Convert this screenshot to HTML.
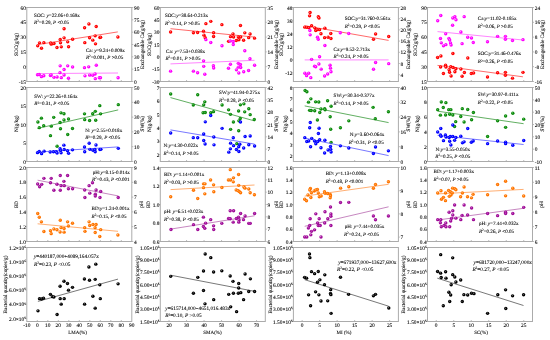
<!DOCTYPE html>
<html><head><meta charset="utf-8"><style>html,body{margin:0;padding:0;background:#fff;width:550px;height:340px;overflow:hidden}svg{display:block;will-change:transform;text-rendering:geometricPrecision}</style></head>
<body>
<svg width="550" height="340" viewBox="0 0 550 340">
<rect width="550" height="340" fill="#fff"/>
<defs><radialGradient id="g0" cx="0.5" cy="0.5" r="0.5" fx="0.35" fy="0.35"><stop offset="0" stop-color="#ff9090"/><stop offset="0.55" stop-color="#f00"/><stop offset="1" stop-color="#f00"/></radialGradient><radialGradient id="g1" cx="0.5" cy="0.5" r="0.5" fx="0.35" fy="0.35"><stop offset="0" stop-color="#ffa0ff"/><stop offset="0.55" stop-color="#f0f"/><stop offset="1" stop-color="#f0f"/></radialGradient><radialGradient id="g2" cx="0.5" cy="0.5" r="0.5" fx="0.35" fy="0.35"><stop offset="0" stop-color="#70c870"/><stop offset="0.55" stop-color="#0c8a0c"/><stop offset="1" stop-color="#0c8a0c"/></radialGradient><radialGradient id="g3" cx="0.5" cy="0.5" r="0.5" fx="0.35" fy="0.35"><stop offset="0" stop-color="#8080ff"/><stop offset="0.55" stop-color="#00f"/><stop offset="1" stop-color="#00f"/></radialGradient><radialGradient id="g4" cx="0.5" cy="0.5" r="0.5" fx="0.35" fy="0.35"><stop offset="0" stop-color="#d080d0"/><stop offset="0.55" stop-color="#a00c98"/><stop offset="1" stop-color="#a00c98"/></radialGradient><radialGradient id="g5" cx="0.5" cy="0.5" r="0.5" fx="0.35" fy="0.35"><stop offset="0" stop-color="#ffc080"/><stop offset="0.55" stop-color="#ff7400"/><stop offset="1" stop-color="#ff7400"/></radialGradient><radialGradient id="g6" cx="0.5" cy="0.5" r="0.5" fx="0.35" fy="0.35"><stop offset="0" stop-color="#808080"/><stop offset="0.55" stop-color="#000"/><stop offset="1" stop-color="#000"/></radialGradient></defs>
<g font-family="&quot;Liberation Serif&quot;, serif" fill="#000" stroke="#000" stroke-width="0.08">
<rect x="26.8" y="7.5" width="105" height="74" fill="none" stroke="#ababab" stroke-width="1"/>
<line x1="37.30" y1="81.5" x2="37.30" y2="80.0" stroke="#ababab" stroke-width="0.8"/>
<line x1="47.80" y1="81.5" x2="47.80" y2="80.0" stroke="#ababab" stroke-width="0.8"/>
<line x1="58.30" y1="81.5" x2="58.30" y2="80.0" stroke="#ababab" stroke-width="0.8"/>
<line x1="68.80" y1="81.5" x2="68.80" y2="80.0" stroke="#ababab" stroke-width="0.8"/>
<line x1="79.30" y1="81.5" x2="79.30" y2="80.0" stroke="#ababab" stroke-width="0.8"/>
<line x1="89.80" y1="81.5" x2="89.80" y2="80.0" stroke="#ababab" stroke-width="0.8"/>
<line x1="100.30" y1="81.5" x2="100.30" y2="80.0" stroke="#ababab" stroke-width="0.8"/>
<line x1="110.80" y1="81.5" x2="110.80" y2="80.0" stroke="#ababab" stroke-width="0.8"/>
<line x1="121.30" y1="81.5" x2="121.30" y2="80.0" stroke="#ababab" stroke-width="0.8"/>
<line x1="26.8" y1="7.50" x2="25.3" y2="7.50" stroke="#ababab" stroke-width="0.8"/>
<text x="25.9" y="9.60" font-size="5.40" text-anchor="end">60</text>
<line x1="26.8" y1="22.30" x2="25.3" y2="22.30" stroke="#ababab" stroke-width="0.8"/>
<text x="25.9" y="24.40" font-size="5.40" text-anchor="end">45</text>
<line x1="26.8" y1="37.10" x2="25.3" y2="37.10" stroke="#ababab" stroke-width="0.8"/>
<text x="25.9" y="39.20" font-size="5.40" text-anchor="end">30</text>
<line x1="26.8" y1="51.90" x2="25.3" y2="51.90" stroke="#ababab" stroke-width="0.8"/>
<text x="25.9" y="54.00" font-size="5.40" text-anchor="end">15</text>
<line x1="26.8" y1="66.70" x2="25.3" y2="66.70" stroke="#ababab" stroke-width="0.8"/>
<text x="25.9" y="68.80" font-size="5.40" text-anchor="end">0</text>
<line x1="26.8" y1="81.50" x2="25.3" y2="81.50" stroke="#ababab" stroke-width="0.8"/>
<text x="25.9" y="83.60" font-size="5.40" text-anchor="end">-15</text>
<line x1="131.8" y1="7.50" x2="133.3" y2="7.50" stroke="#ababab" stroke-width="0.8"/>
<text x="134.0" y="9.60" font-size="5.40">90</text>
<line x1="131.8" y1="19.83" x2="133.3" y2="19.83" stroke="#ababab" stroke-width="0.8"/>
<text x="134.0" y="21.93" font-size="5.40">75</text>
<line x1="131.8" y1="32.17" x2="133.3" y2="32.17" stroke="#ababab" stroke-width="0.8"/>
<text x="134.0" y="34.27" font-size="5.40">60</text>
<line x1="131.8" y1="44.50" x2="133.3" y2="44.50" stroke="#ababab" stroke-width="0.8"/>
<text x="134.0" y="46.60" font-size="5.40">45</text>
<line x1="131.8" y1="56.83" x2="133.3" y2="56.83" stroke="#ababab" stroke-width="0.8"/>
<text x="134.0" y="58.93" font-size="5.40">30</text>
<line x1="131.8" y1="69.17" x2="133.3" y2="69.17" stroke="#ababab" stroke-width="0.8"/>
<text x="134.0" y="71.27" font-size="5.40">15</text>
<line x1="131.8" y1="81.50" x2="133.3" y2="81.50" stroke="#ababab" stroke-width="0.8"/>
<text x="134.0" y="83.60" font-size="5.40">0</text>
<text transform="translate(18.4,44.5) rotate(-90)" font-size="5.20" text-anchor="middle">SOC(g/kg)</text>
<text transform="translate(144.4,44.5) rotate(-90)" font-size="5.20" text-anchor="middle">Exchangeable Ca(g/kg)</text>
<line x1="37.6" y1="44.6" x2="117.8" y2="31.9" stroke="#f44" stroke-width="0.80"/>
<circle cx="37.70" cy="45.85" r="1.70" fill="url(#g0)" stroke="none"/>
<circle cx="39.50" cy="42.85" r="1.70" fill="url(#g0)" stroke="none"/>
<circle cx="41.50" cy="48.25" r="1.70" fill="url(#g0)" stroke="none"/>
<circle cx="43.90" cy="42.65" r="1.70" fill="url(#g0)" stroke="none"/>
<circle cx="50.70" cy="42.85" r="1.70" fill="url(#g0)" stroke="none"/>
<circle cx="51.30" cy="44.15" r="1.70" fill="url(#g0)" stroke="none"/>
<circle cx="54.00" cy="43.45" r="1.70" fill="url(#g0)" stroke="none"/>
<circle cx="57.00" cy="47.55" r="1.70" fill="url(#g0)" stroke="none"/>
<circle cx="60.20" cy="39.45" r="1.70" fill="url(#g0)" stroke="none"/>
<circle cx="60.50" cy="42.85" r="1.70" fill="url(#g0)" stroke="none"/>
<circle cx="61.30" cy="46.85" r="1.70" fill="url(#g0)" stroke="none"/>
<circle cx="64.10" cy="28.75" r="1.70" fill="url(#g0)" stroke="none"/>
<circle cx="64.10" cy="37.85" r="1.70" fill="url(#g0)" stroke="none"/>
<circle cx="67.70" cy="41.85" r="1.70" fill="url(#g0)" stroke="none"/>
<circle cx="68.60" cy="46.75" r="1.70" fill="url(#g0)" stroke="none"/>
<circle cx="72.60" cy="39.25" r="1.70" fill="url(#g0)" stroke="none"/>
<circle cx="84.60" cy="27.75" r="1.70" fill="url(#g0)" stroke="none"/>
<circle cx="88.90" cy="23.95" r="1.70" fill="url(#g0)" stroke="none"/>
<circle cx="96.20" cy="26.45" r="1.70" fill="url(#g0)" stroke="none"/>
<circle cx="84.80" cy="42.65" r="1.70" fill="url(#g0)" stroke="none"/>
<circle cx="89.60" cy="37.75" r="1.70" fill="url(#g0)" stroke="none"/>
<circle cx="92.80" cy="40.15" r="1.70" fill="url(#g0)" stroke="none"/>
<circle cx="95.20" cy="35.85" r="1.70" fill="url(#g0)" stroke="none"/>
<circle cx="95.50" cy="43.85" r="1.70" fill="url(#g0)" stroke="none"/>
<circle cx="99.90" cy="37.55" r="1.70" fill="url(#g0)" stroke="none"/>
<circle cx="100.60" cy="37.25" r="1.70" fill="url(#g0)" stroke="none"/>
<circle cx="117.90" cy="37.05" r="1.70" fill="url(#g0)" stroke="none"/>
<line x1="37.4" y1="73.6" x2="118.0" y2="73.0" stroke="#f6f" stroke-width="0.80"/>
<circle cx="37.50" cy="74.75" r="1.70" fill="url(#g1)" stroke="none"/>
<circle cx="39.20" cy="74.45" r="1.70" fill="url(#g1)" stroke="none"/>
<circle cx="41.40" cy="76.65" r="1.70" fill="url(#g1)" stroke="none"/>
<circle cx="43.80" cy="75.75" r="1.70" fill="url(#g1)" stroke="none"/>
<circle cx="50.40" cy="75.55" r="1.70" fill="url(#g1)" stroke="none"/>
<circle cx="51.20" cy="74.95" r="1.70" fill="url(#g1)" stroke="none"/>
<circle cx="54.00" cy="77.35" r="1.70" fill="url(#g1)" stroke="none"/>
<circle cx="57.10" cy="76.95" r="1.70" fill="url(#g1)" stroke="none"/>
<circle cx="60.20" cy="65.85" r="1.70" fill="url(#g1)" stroke="none"/>
<circle cx="60.00" cy="72.65" r="1.70" fill="url(#g1)" stroke="none"/>
<circle cx="61.30" cy="77.65" r="1.70" fill="url(#g1)" stroke="none"/>
<circle cx="64.10" cy="69.55" r="1.70" fill="url(#g1)" stroke="none"/>
<circle cx="64.10" cy="74.95" r="1.70" fill="url(#g1)" stroke="none"/>
<circle cx="67.70" cy="65.85" r="1.70" fill="url(#g1)" stroke="none"/>
<circle cx="68.50" cy="78.25" r="1.70" fill="url(#g1)" stroke="none"/>
<circle cx="72.60" cy="67.05" r="1.70" fill="url(#g1)" stroke="none"/>
<circle cx="84.50" cy="67.65" r="1.70" fill="url(#g1)" stroke="none"/>
<circle cx="88.70" cy="66.85" r="1.70" fill="url(#g1)" stroke="none"/>
<circle cx="96.30" cy="65.25" r="1.70" fill="url(#g1)" stroke="none"/>
<circle cx="85.00" cy="75.85" r="1.70" fill="url(#g1)" stroke="none"/>
<circle cx="89.70" cy="75.15" r="1.70" fill="url(#g1)" stroke="none"/>
<circle cx="92.70" cy="75.35" r="1.70" fill="url(#g1)" stroke="none"/>
<circle cx="95.10" cy="73.95" r="1.70" fill="url(#g1)" stroke="none"/>
<circle cx="95.30" cy="78.65" r="1.70" fill="url(#g1)" stroke="none"/>
<circle cx="99.30" cy="77.75" r="1.70" fill="url(#g1)" stroke="none"/>
<circle cx="100.50" cy="77.75" r="1.70" fill="url(#g1)" stroke="none"/>
<circle cx="118.10" cy="77.75" r="1.70" fill="url(#g1)" stroke="none"/>
<text x="34.1" y="16.8" font-size="5.05">SOC: <tspan font-style="italic">y</tspan>=22.06+0.169x</text>
<text x="34.1" y="23.6" font-size="5.05"><tspan font-style="italic">R</tspan><tspan dy="-1.8" font-size="3.28">2</tspan><tspan dy="1.8">=0.29, <tspan font-style="italic">P</tspan> &lt;0.05</tspan></text>
<text x="85.9" y="51.5" font-size="5.05">Ca: <tspan font-style="italic">y</tspan>=9.24+0.009x</text>
<text x="85.9" y="58.6" font-size="5.05"><tspan font-style="italic">R</tspan><tspan dy="-1.8" font-size="3.28">2</tspan><tspan dy="1.8">=0.001, <tspan font-style="italic">P</tspan> &gt;0.05</tspan></text>
<rect x="160.3" y="7.5" width="105" height="74" fill="none" stroke="#ababab" stroke-width="1"/>
<line x1="169.05" y1="81.5" x2="169.05" y2="80.0" stroke="#ababab" stroke-width="0.8"/>
<line x1="186.55" y1="81.5" x2="186.55" y2="80.0" stroke="#ababab" stroke-width="0.8"/>
<line x1="204.05" y1="81.5" x2="204.05" y2="80.0" stroke="#ababab" stroke-width="0.8"/>
<line x1="221.55" y1="81.5" x2="221.55" y2="80.0" stroke="#ababab" stroke-width="0.8"/>
<line x1="239.05" y1="81.5" x2="239.05" y2="80.0" stroke="#ababab" stroke-width="0.8"/>
<line x1="256.55" y1="81.5" x2="256.55" y2="80.0" stroke="#ababab" stroke-width="0.8"/>
<line x1="160.3" y1="7.50" x2="158.8" y2="7.50" stroke="#ababab" stroke-width="0.8"/>
<text x="159.4" y="9.60" font-size="5.40" text-anchor="end">60</text>
<line x1="160.3" y1="19.83" x2="158.8" y2="19.83" stroke="#ababab" stroke-width="0.8"/>
<text x="159.4" y="21.93" font-size="5.40" text-anchor="end">45</text>
<line x1="160.3" y1="32.17" x2="158.8" y2="32.17" stroke="#ababab" stroke-width="0.8"/>
<text x="159.4" y="34.27" font-size="5.40" text-anchor="end">30</text>
<line x1="160.3" y1="44.50" x2="158.8" y2="44.50" stroke="#ababab" stroke-width="0.8"/>
<text x="159.4" y="46.60" font-size="5.40" text-anchor="end">15</text>
<line x1="160.3" y1="56.83" x2="158.8" y2="56.83" stroke="#ababab" stroke-width="0.8"/>
<text x="159.4" y="58.93" font-size="5.40" text-anchor="end">0</text>
<line x1="160.3" y1="69.17" x2="158.8" y2="69.17" stroke="#ababab" stroke-width="0.8"/>
<text x="159.4" y="71.27" font-size="5.40" text-anchor="end">-15</text>
<line x1="160.3" y1="81.50" x2="158.8" y2="81.50" stroke="#ababab" stroke-width="0.8"/>
<text x="159.4" y="83.60" font-size="5.40" text-anchor="end">-30</text>
<line x1="265.3" y1="7.50" x2="266.8" y2="7.50" stroke="#ababab" stroke-width="0.8"/>
<text x="267.5" y="9.60" font-size="5.40">35</text>
<line x1="265.3" y1="22.30" x2="266.8" y2="22.30" stroke="#ababab" stroke-width="0.8"/>
<text x="267.5" y="24.40" font-size="5.40">28</text>
<line x1="265.3" y1="37.10" x2="266.8" y2="37.10" stroke="#ababab" stroke-width="0.8"/>
<text x="267.5" y="39.20" font-size="5.40">21</text>
<line x1="265.3" y1="51.90" x2="266.8" y2="51.90" stroke="#ababab" stroke-width="0.8"/>
<text x="267.5" y="54.00" font-size="5.40">14</text>
<line x1="265.3" y1="66.70" x2="266.8" y2="66.70" stroke="#ababab" stroke-width="0.8"/>
<text x="267.5" y="68.80" font-size="5.40">7</text>
<line x1="265.3" y1="81.50" x2="266.8" y2="81.50" stroke="#ababab" stroke-width="0.8"/>
<text x="267.5" y="83.60" font-size="5.40">0</text>
<text transform="translate(150.9,44.5) rotate(-90)" font-size="5.20" text-anchor="middle">SOC(g/kg)</text>
<text transform="translate(277.5,44.5) rotate(-90)" font-size="5.20" text-anchor="middle">Exchangeable Ca(g/kg)</text>
<line x1="170.5" y1="28.7" x2="254.5" y2="37.1" stroke="#f44" stroke-width="0.80"/>
<circle cx="170.60" cy="32.05" r="1.70" fill="url(#g0)" stroke="none"/>
<circle cx="193.40" cy="32.75" r="1.70" fill="url(#g0)" stroke="none"/>
<circle cx="197.60" cy="32.55" r="1.70" fill="url(#g0)" stroke="none"/>
<circle cx="203.50" cy="31.15" r="1.70" fill="url(#g0)" stroke="none"/>
<circle cx="204.00" cy="35.15" r="1.70" fill="url(#g0)" stroke="none"/>
<circle cx="205.20" cy="37.75" r="1.70" fill="url(#g0)" stroke="none"/>
<circle cx="205.90" cy="23.65" r="1.70" fill="url(#g0)" stroke="none"/>
<circle cx="210.80" cy="21.35" r="1.70" fill="url(#g0)" stroke="none"/>
<circle cx="213.60" cy="32.75" r="1.70" fill="url(#g0)" stroke="none"/>
<circle cx="213.60" cy="36.45" r="1.70" fill="url(#g0)" stroke="none"/>
<circle cx="221.90" cy="24.65" r="1.70" fill="url(#g0)" stroke="none"/>
<circle cx="240.50" cy="25.45" r="1.70" fill="url(#g0)" stroke="none"/>
<circle cx="233.00" cy="33.85" r="1.70" fill="url(#g0)" stroke="none"/>
<circle cx="230.50" cy="36.65" r="1.70" fill="url(#g0)" stroke="none"/>
<circle cx="233.60" cy="37.05" r="1.70" fill="url(#g0)" stroke="none"/>
<circle cx="228.60" cy="41.35" r="1.70" fill="url(#g0)" stroke="none"/>
<circle cx="236.30" cy="40.55" r="1.70" fill="url(#g0)" stroke="none"/>
<circle cx="238.30" cy="37.05" r="1.70" fill="url(#g0)" stroke="none"/>
<circle cx="238.90" cy="39.75" r="1.70" fill="url(#g0)" stroke="none"/>
<circle cx="240.70" cy="37.05" r="1.70" fill="url(#g0)" stroke="none"/>
<circle cx="243.60" cy="40.25" r="1.70" fill="url(#g0)" stroke="none"/>
<circle cx="244.80" cy="32.85" r="1.70" fill="url(#g0)" stroke="none"/>
<circle cx="248.70" cy="37.65" r="1.70" fill="url(#g0)" stroke="none"/>
<circle cx="250.10" cy="34.05" r="1.70" fill="url(#g0)" stroke="none"/>
<circle cx="254.50" cy="38.15" r="1.70" fill="url(#g0)" stroke="none"/>
<line x1="170.5" y1="63.9" x2="254.5" y2="60.3" stroke="#f6f" stroke-width="0.80"/>
<circle cx="205.90" cy="39.65" r="1.70" fill="url(#g1)" stroke="none"/>
<circle cx="210.80" cy="42.45" r="1.70" fill="url(#g1)" stroke="none"/>
<circle cx="170.60" cy="71.15" r="1.70" fill="url(#g1)" stroke="none"/>
<circle cx="193.40" cy="71.15" r="1.70" fill="url(#g1)" stroke="none"/>
<circle cx="197.60" cy="72.75" r="1.70" fill="url(#g1)" stroke="none"/>
<circle cx="203.60" cy="60.85" r="1.70" fill="url(#g1)" stroke="none"/>
<circle cx="203.70" cy="66.35" r="1.70" fill="url(#g1)" stroke="none"/>
<circle cx="204.80" cy="74.25" r="1.70" fill="url(#g1)" stroke="none"/>
<circle cx="213.40" cy="65.75" r="1.70" fill="url(#g1)" stroke="none"/>
<circle cx="213.70" cy="67.95" r="1.70" fill="url(#g1)" stroke="none"/>
<circle cx="222.00" cy="45.75" r="1.70" fill="url(#g1)" stroke="none"/>
<circle cx="230.30" cy="41.05" r="1.70" fill="url(#g1)" stroke="none"/>
<circle cx="233.30" cy="41.55" r="1.70" fill="url(#g1)" stroke="none"/>
<circle cx="233.30" cy="44.55" r="1.70" fill="url(#g1)" stroke="none"/>
<circle cx="244.80" cy="50.75" r="1.70" fill="url(#g1)" stroke="none"/>
<circle cx="250.00" cy="58.75" r="1.70" fill="url(#g1)" stroke="none"/>
<circle cx="228.50" cy="68.25" r="1.70" fill="url(#g1)" stroke="none"/>
<circle cx="230.40" cy="64.25" r="1.70" fill="url(#g1)" stroke="none"/>
<circle cx="238.30" cy="63.35" r="1.70" fill="url(#g1)" stroke="none"/>
<circle cx="240.40" cy="64.45" r="1.70" fill="url(#g1)" stroke="none"/>
<circle cx="238.30" cy="67.15" r="1.70" fill="url(#g1)" stroke="none"/>
<circle cx="240.70" cy="67.45" r="1.70" fill="url(#g1)" stroke="none"/>
<circle cx="236.40" cy="69.85" r="1.70" fill="url(#g1)" stroke="none"/>
<circle cx="238.80" cy="72.95" r="1.70" fill="url(#g1)" stroke="none"/>
<circle cx="243.70" cy="71.75" r="1.70" fill="url(#g1)" stroke="none"/>
<circle cx="248.60" cy="70.45" r="1.70" fill="url(#g1)" stroke="none"/>
<circle cx="254.60" cy="65.25" r="1.70" fill="url(#g1)" stroke="none"/>
<text x="164.9" y="17.3" font-size="5.05">SOC:<tspan font-style="italic">y</tspan>=38.64-0.213x</text>
<text x="164.9" y="24.8" font-size="5.05"><tspan font-style="italic">R</tspan><tspan dy="-1.8" font-size="3.28">2</tspan><tspan dy="1.8">=0.14, <tspan font-style="italic">P</tspan> &gt;0.05</tspan></text>
<text x="166.1" y="52.5" font-size="5.05">Ca: <tspan font-style="italic">y</tspan>=7.53+0.038x</text>
<text x="165.5" y="59.6" font-size="5.05"><tspan font-style="italic">R</tspan><tspan dy="-1.8" font-size="3.28">2</tspan><tspan dy="1.8">=0.01, <tspan font-style="italic">P</tspan> &gt;0.05</tspan></text>
<rect x="293.4" y="7.5" width="105" height="74" fill="none" stroke="#ababab" stroke-width="1"/>
<line x1="302.15" y1="81.5" x2="302.15" y2="80.0" stroke="#ababab" stroke-width="0.8"/>
<line x1="319.65" y1="81.5" x2="319.65" y2="80.0" stroke="#ababab" stroke-width="0.8"/>
<line x1="337.15" y1="81.5" x2="337.15" y2="80.0" stroke="#ababab" stroke-width="0.8"/>
<line x1="354.65" y1="81.5" x2="354.65" y2="80.0" stroke="#ababab" stroke-width="0.8"/>
<line x1="372.15" y1="81.5" x2="372.15" y2="80.0" stroke="#ababab" stroke-width="0.8"/>
<line x1="389.65" y1="81.5" x2="389.65" y2="80.0" stroke="#ababab" stroke-width="0.8"/>
<line x1="293.4" y1="7.50" x2="291.9" y2="7.50" stroke="#ababab" stroke-width="0.8"/>
<text x="292.5" y="9.60" font-size="5.40" text-anchor="end">48</text>
<line x1="293.4" y1="20.60" x2="291.9" y2="20.60" stroke="#ababab" stroke-width="0.8"/>
<text x="292.5" y="22.70" font-size="5.40" text-anchor="end">36</text>
<line x1="293.4" y1="33.70" x2="291.9" y2="33.70" stroke="#ababab" stroke-width="0.8"/>
<text x="292.5" y="35.80" font-size="5.40" text-anchor="end">24</text>
<line x1="293.4" y1="46.80" x2="291.9" y2="46.80" stroke="#ababab" stroke-width="0.8"/>
<text x="292.5" y="48.90" font-size="5.40" text-anchor="end">12</text>
<line x1="293.4" y1="59.90" x2="291.9" y2="59.90" stroke="#ababab" stroke-width="0.8"/>
<text x="292.5" y="62.00" font-size="5.40" text-anchor="end">0</text>
<line x1="293.4" y1="73.00" x2="291.9" y2="73.00" stroke="#ababab" stroke-width="0.8"/>
<text x="292.5" y="75.10" font-size="5.40" text-anchor="end">-12</text>
<line x1="398.4" y1="7.50" x2="399.9" y2="7.50" stroke="#ababab" stroke-width="0.8"/>
<text x="400.6" y="9.60" font-size="5.40">28</text>
<line x1="398.4" y1="18.70" x2="399.9" y2="18.70" stroke="#ababab" stroke-width="0.8"/>
<text x="400.6" y="20.80" font-size="5.40">24</text>
<line x1="398.4" y1="29.90" x2="399.9" y2="29.90" stroke="#ababab" stroke-width="0.8"/>
<text x="400.6" y="32.00" font-size="5.40">20</text>
<line x1="398.4" y1="41.10" x2="399.9" y2="41.10" stroke="#ababab" stroke-width="0.8"/>
<text x="400.6" y="43.20" font-size="5.40">16</text>
<line x1="398.4" y1="52.30" x2="399.9" y2="52.30" stroke="#ababab" stroke-width="0.8"/>
<text x="400.6" y="54.40" font-size="5.40">12</text>
<line x1="398.4" y1="63.50" x2="399.9" y2="63.50" stroke="#ababab" stroke-width="0.8"/>
<text x="400.6" y="65.60" font-size="5.40">8</text>
<line x1="398.4" y1="74.70" x2="399.9" y2="74.70" stroke="#ababab" stroke-width="0.8"/>
<text x="400.6" y="76.80" font-size="5.40">4</text>
<text transform="translate(283.4,44.5) rotate(-90)" font-size="5.20" text-anchor="middle">SOC(g/kg)</text>
<text transform="translate(409.8,44.5) rotate(-90)" font-size="5.20" text-anchor="middle">Exchangeable Ca(g/kg)</text>
<line x1="304.7" y1="25.7" x2="388.6" y2="40.4" stroke="#f44" stroke-width="0.80"/>
<circle cx="310.10" cy="12.55" r="1.70" fill="url(#g0)" stroke="none"/>
<circle cx="309.60" cy="15.85" r="1.70" fill="url(#g0)" stroke="none"/>
<circle cx="318.30" cy="16.75" r="1.70" fill="url(#g0)" stroke="none"/>
<circle cx="319.00" cy="17.95" r="1.70" fill="url(#g0)" stroke="none"/>
<circle cx="304.80" cy="27.15" r="1.70" fill="url(#g0)" stroke="none"/>
<circle cx="306.90" cy="27.35" r="1.70" fill="url(#g0)" stroke="none"/>
<circle cx="308.90" cy="27.65" r="1.70" fill="url(#g0)" stroke="none"/>
<circle cx="311.60" cy="25.65" r="1.70" fill="url(#g0)" stroke="none"/>
<circle cx="314.80" cy="27.85" r="1.70" fill="url(#g0)" stroke="none"/>
<circle cx="315.70" cy="30.55" r="1.70" fill="url(#g0)" stroke="none"/>
<circle cx="317.30" cy="29.65" r="1.70" fill="url(#g0)" stroke="none"/>
<circle cx="319.60" cy="29.65" r="1.70" fill="url(#g0)" stroke="none"/>
<circle cx="324.90" cy="28.15" r="1.70" fill="url(#g0)" stroke="none"/>
<circle cx="321.00" cy="33.75" r="1.70" fill="url(#g0)" stroke="none"/>
<circle cx="324.60" cy="37.65" r="1.70" fill="url(#g0)" stroke="none"/>
<circle cx="328.10" cy="37.25" r="1.70" fill="url(#g0)" stroke="none"/>
<circle cx="330.80" cy="33.45" r="1.70" fill="url(#g0)" stroke="none"/>
<circle cx="331.00" cy="38.45" r="1.70" fill="url(#g0)" stroke="none"/>
<circle cx="373.50" cy="39.35" r="1.70" fill="url(#g0)" stroke="none"/>
<circle cx="375.60" cy="33.95" r="1.70" fill="url(#g0)" stroke="none"/>
<circle cx="388.70" cy="36.55" r="1.70" fill="url(#g0)" stroke="none"/>
<line x1="304.7" y1="59.9" x2="388.6" y2="59.9" stroke="#f6f" stroke-width="0.80"/>
<circle cx="309.90" cy="30.55" r="1.70" fill="url(#g1)" stroke="none"/>
<circle cx="310.20" cy="34.85" r="1.70" fill="url(#g1)" stroke="none"/>
<circle cx="317.50" cy="37.25" r="1.70" fill="url(#g1)" stroke="none"/>
<circle cx="318.30" cy="39.35" r="1.70" fill="url(#g1)" stroke="none"/>
<circle cx="324.90" cy="45.45" r="1.70" fill="url(#g1)" stroke="none"/>
<circle cx="319.60" cy="56.75" r="1.70" fill="url(#g1)" stroke="none"/>
<circle cx="311.60" cy="59.35" r="1.70" fill="url(#g1)" stroke="none"/>
<circle cx="314.60" cy="66.15" r="1.70" fill="url(#g1)" stroke="none"/>
<circle cx="315.70" cy="66.75" r="1.70" fill="url(#g1)" stroke="none"/>
<circle cx="318.90" cy="64.05" r="1.70" fill="url(#g1)" stroke="none"/>
<circle cx="321.20" cy="69.15" r="1.70" fill="url(#g1)" stroke="none"/>
<circle cx="330.10" cy="65.25" r="1.70" fill="url(#g1)" stroke="none"/>
<circle cx="330.50" cy="68.15" r="1.70" fill="url(#g1)" stroke="none"/>
<circle cx="331.00" cy="71.75" r="1.70" fill="url(#g1)" stroke="none"/>
<circle cx="327.70" cy="74.05" r="1.70" fill="url(#g1)" stroke="none"/>
<circle cx="324.60" cy="76.05" r="1.70" fill="url(#g1)" stroke="none"/>
<circle cx="304.90" cy="73.25" r="1.70" fill="url(#g1)" stroke="none"/>
<circle cx="306.60" cy="75.65" r="1.70" fill="url(#g1)" stroke="none"/>
<circle cx="308.70" cy="73.25" r="1.70" fill="url(#g1)" stroke="none"/>
<circle cx="310.80" cy="77.65" r="1.70" fill="url(#g1)" stroke="none"/>
<circle cx="340.30" cy="32.75" r="1.70" fill="url(#g1)" stroke="none"/>
<circle cx="348.70" cy="33.45" r="1.70" fill="url(#g1)" stroke="none"/>
<circle cx="375.60" cy="62.45" r="1.70" fill="url(#g1)" stroke="none"/>
<circle cx="373.50" cy="69.25" r="1.70" fill="url(#g1)" stroke="none"/>
<circle cx="388.70" cy="63.65" r="1.70" fill="url(#g1)" stroke="none"/>
<text x="344.7" y="20.4" font-size="5.05">SOC:<tspan font-style="italic">y</tspan>=31.760-0.561x</text>
<text x="344.7" y="27.8" font-size="5.05"><tspan font-style="italic">R</tspan><tspan dy="-1.8" font-size="3.28">2</tspan><tspan dy="1.8">=0.29, <tspan font-style="italic">P</tspan> &lt;0.05</tspan></text>
<text x="333.6" y="50.9" font-size="5.05">Ca:<tspan font-style="italic">y</tspan>=9.52-2.713x</text>
<text x="333.6" y="58.0" font-size="5.05"><tspan font-style="italic">R</tspan><tspan dy="-1.8" font-size="3.28">2</tspan><tspan dy="1.8">=0.24, <tspan font-style="italic">P</tspan> &gt;0.05</tspan></text>
<rect x="427.5" y="7.5" width="105" height="74" fill="none" stroke="#ababab" stroke-width="1"/>
<line x1="436.25" y1="81.5" x2="436.25" y2="80.0" stroke="#ababab" stroke-width="0.8"/>
<line x1="453.75" y1="81.5" x2="453.75" y2="80.0" stroke="#ababab" stroke-width="0.8"/>
<line x1="471.25" y1="81.5" x2="471.25" y2="80.0" stroke="#ababab" stroke-width="0.8"/>
<line x1="488.75" y1="81.5" x2="488.75" y2="80.0" stroke="#ababab" stroke-width="0.8"/>
<line x1="506.25" y1="81.5" x2="506.25" y2="80.0" stroke="#ababab" stroke-width="0.8"/>
<line x1="523.75" y1="81.5" x2="523.75" y2="80.0" stroke="#ababab" stroke-width="0.8"/>
<line x1="427.5" y1="7.50" x2="426.0" y2="7.50" stroke="#ababab" stroke-width="0.8"/>
<text x="426.6" y="9.60" font-size="5.40" text-anchor="end">90</text>
<line x1="427.5" y1="22.30" x2="426.0" y2="22.30" stroke="#ababab" stroke-width="0.8"/>
<text x="426.6" y="24.40" font-size="5.40" text-anchor="end">75</text>
<line x1="427.5" y1="37.10" x2="426.0" y2="37.10" stroke="#ababab" stroke-width="0.8"/>
<text x="426.6" y="39.20" font-size="5.40" text-anchor="end">60</text>
<line x1="427.5" y1="51.90" x2="426.0" y2="51.90" stroke="#ababab" stroke-width="0.8"/>
<text x="426.6" y="54.00" font-size="5.40" text-anchor="end">45</text>
<line x1="427.5" y1="66.70" x2="426.0" y2="66.70" stroke="#ababab" stroke-width="0.8"/>
<text x="426.6" y="68.80" font-size="5.40" text-anchor="end">30</text>
<line x1="427.5" y1="81.50" x2="426.0" y2="81.50" stroke="#ababab" stroke-width="0.8"/>
<text x="426.6" y="83.60" font-size="5.40" text-anchor="end">15</text>
<line x1="532.5" y1="7.50" x2="534.0" y2="7.50" stroke="#ababab" stroke-width="0.8"/>
<text x="534.7" y="9.60" font-size="5.40">24</text>
<line x1="532.5" y1="22.30" x2="534.0" y2="22.30" stroke="#ababab" stroke-width="0.8"/>
<text x="534.7" y="24.40" font-size="5.40">16</text>
<line x1="532.5" y1="37.10" x2="534.0" y2="37.10" stroke="#ababab" stroke-width="0.8"/>
<text x="534.7" y="39.20" font-size="5.40">8</text>
<line x1="532.5" y1="51.90" x2="534.0" y2="51.90" stroke="#ababab" stroke-width="0.8"/>
<text x="534.7" y="54.00" font-size="5.40">0</text>
<line x1="532.5" y1="66.70" x2="534.0" y2="66.70" stroke="#ababab" stroke-width="0.8"/>
<text x="534.7" y="68.80" font-size="5.40">-8</text>
<line x1="532.5" y1="81.50" x2="534.0" y2="81.50" stroke="#ababab" stroke-width="0.8"/>
<text x="534.7" y="83.60" font-size="5.40">-16</text>
<text transform="translate(417.1,44.5) rotate(-90)" font-size="5.20" text-anchor="middle">SOC(g/kg)</text>
<text transform="translate(544.0,44.5) rotate(-90)" font-size="5.20" text-anchor="middle">Exchangeable Ca(g/kg)</text>
<line x1="437.5" y1="65.4" x2="522.9" y2="76.8" stroke="#f44" stroke-width="0.80"/>
<circle cx="452.90" cy="53.45" r="1.70" fill="url(#g0)" stroke="none"/>
<circle cx="437.60" cy="57.45" r="1.70" fill="url(#g0)" stroke="none"/>
<circle cx="440.90" cy="55.95" r="1.70" fill="url(#g0)" stroke="none"/>
<circle cx="467.80" cy="58.05" r="1.70" fill="url(#g0)" stroke="none"/>
<circle cx="440.60" cy="67.05" r="1.70" fill="url(#g0)" stroke="none"/>
<circle cx="445.60" cy="65.25" r="1.70" fill="url(#g0)" stroke="none"/>
<circle cx="445.90" cy="67.05" r="1.70" fill="url(#g0)" stroke="none"/>
<circle cx="450.80" cy="66.75" r="1.70" fill="url(#g0)" stroke="none"/>
<circle cx="449.10" cy="69.75" r="1.70" fill="url(#g0)" stroke="none"/>
<circle cx="449.60" cy="72.25" r="1.70" fill="url(#g0)" stroke="none"/>
<circle cx="453.10" cy="67.55" r="1.70" fill="url(#g0)" stroke="none"/>
<circle cx="455.90" cy="68.75" r="1.70" fill="url(#g0)" stroke="none"/>
<circle cx="454.90" cy="71.75" r="1.70" fill="url(#g0)" stroke="none"/>
<circle cx="460.90" cy="68.95" r="1.70" fill="url(#g0)" stroke="none"/>
<circle cx="443.40" cy="73.55" r="1.70" fill="url(#g0)" stroke="none"/>
<circle cx="451.10" cy="76.05" r="1.70" fill="url(#g0)" stroke="none"/>
<circle cx="462.10" cy="76.25" r="1.70" fill="url(#g0)" stroke="none"/>
<circle cx="464.40" cy="72.55" r="1.70" fill="url(#g0)" stroke="none"/>
<circle cx="471.30" cy="73.55" r="1.70" fill="url(#g0)" stroke="none"/>
<circle cx="473.60" cy="73.05" r="1.70" fill="url(#g0)" stroke="none"/>
<circle cx="487.50" cy="77.05" r="1.70" fill="url(#g0)" stroke="none"/>
<circle cx="497.60" cy="72.75" r="1.70" fill="url(#g0)" stroke="none"/>
<circle cx="505.40" cy="72.35" r="1.70" fill="url(#g0)" stroke="none"/>
<circle cx="505.40" cy="75.35" r="1.70" fill="url(#g0)" stroke="none"/>
<circle cx="512.50" cy="78.15" r="1.70" fill="url(#g0)" stroke="none"/>
<circle cx="523.00" cy="72.35" r="1.70" fill="url(#g0)" stroke="none"/>
<line x1="437.5" y1="31.6" x2="522.9" y2="40.0" stroke="#f6f" stroke-width="0.80"/>
<circle cx="440.80" cy="15.45" r="1.70" fill="url(#g1)" stroke="none"/>
<circle cx="437.70" cy="20.75" r="1.70" fill="url(#g1)" stroke="none"/>
<circle cx="452.80" cy="17.95" r="1.70" fill="url(#g1)" stroke="none"/>
<circle cx="454.90" cy="16.65" r="1.70" fill="url(#g1)" stroke="none"/>
<circle cx="456.00" cy="19.75" r="1.70" fill="url(#g1)" stroke="none"/>
<circle cx="464.20" cy="16.65" r="1.70" fill="url(#g1)" stroke="none"/>
<circle cx="452.60" cy="25.25" r="1.70" fill="url(#g1)" stroke="none"/>
<circle cx="445.70" cy="33.85" r="1.70" fill="url(#g1)" stroke="none"/>
<circle cx="460.90" cy="32.05" r="1.70" fill="url(#g1)" stroke="none"/>
<circle cx="440.50" cy="38.45" r="1.70" fill="url(#g1)" stroke="none"/>
<circle cx="448.90" cy="38.45" r="1.70" fill="url(#g1)" stroke="none"/>
<circle cx="449.70" cy="40.05" r="1.70" fill="url(#g1)" stroke="none"/>
<circle cx="441.30" cy="42.85" r="1.70" fill="url(#g1)" stroke="none"/>
<circle cx="443.50" cy="45.85" r="1.70" fill="url(#g1)" stroke="none"/>
<circle cx="445.90" cy="44.65" r="1.70" fill="url(#g1)" stroke="none"/>
<circle cx="450.50" cy="43.05" r="1.70" fill="url(#g1)" stroke="none"/>
<circle cx="451.10" cy="45.05" r="1.70" fill="url(#g1)" stroke="none"/>
<circle cx="462.10" cy="43.65" r="1.70" fill="url(#g1)" stroke="none"/>
<circle cx="467.70" cy="37.25" r="1.70" fill="url(#g1)" stroke="none"/>
<circle cx="471.50" cy="38.05" r="1.70" fill="url(#g1)" stroke="none"/>
<circle cx="473.30" cy="42.45" r="1.70" fill="url(#g1)" stroke="none"/>
<circle cx="487.50" cy="41.75" r="1.70" fill="url(#g1)" stroke="none"/>
<circle cx="497.60" cy="36.35" r="1.70" fill="url(#g1)" stroke="none"/>
<circle cx="505.40" cy="36.35" r="1.70" fill="url(#g1)" stroke="none"/>
<circle cx="505.40" cy="39.35" r="1.70" fill="url(#g1)" stroke="none"/>
<circle cx="512.50" cy="40.55" r="1.70" fill="url(#g1)" stroke="none"/>
<circle cx="523.00" cy="39.65" r="1.70" fill="url(#g1)" stroke="none"/>
<text x="477.8" y="19.6" font-size="5.05">Ca:<tspan font-style="italic">y</tspan>=11.02-0.185x</text>
<text x="477.8" y="27.8" font-size="5.05"><tspan font-style="italic">R</tspan><tspan dy="-1.8" font-size="3.28">2</tspan><tspan dy="1.8">=0.06, <tspan font-style="italic">P</tspan> &gt;0.05</tspan></text>
<text x="477.8" y="55.4" font-size="5.05">SOC:<tspan font-style="italic">y</tspan>=31.46-0.476x</text>
<text x="477.8" y="63.3" font-size="5.05"><tspan font-style="italic">R</tspan><tspan dy="-1.8" font-size="3.28">2</tspan><tspan dy="1.8">=0.26, <tspan font-style="italic">P</tspan> &lt;0.05</tspan></text>
<rect x="26.8" y="87.5" width="105" height="74" fill="none" stroke="#ababab" stroke-width="1"/>
<line x1="37.30" y1="161.5" x2="37.30" y2="160.0" stroke="#ababab" stroke-width="0.8"/>
<line x1="47.80" y1="161.5" x2="47.80" y2="160.0" stroke="#ababab" stroke-width="0.8"/>
<line x1="58.30" y1="161.5" x2="58.30" y2="160.0" stroke="#ababab" stroke-width="0.8"/>
<line x1="68.80" y1="161.5" x2="68.80" y2="160.0" stroke="#ababab" stroke-width="0.8"/>
<line x1="79.30" y1="161.5" x2="79.30" y2="160.0" stroke="#ababab" stroke-width="0.8"/>
<line x1="89.80" y1="161.5" x2="89.80" y2="160.0" stroke="#ababab" stroke-width="0.8"/>
<line x1="100.30" y1="161.5" x2="100.30" y2="160.0" stroke="#ababab" stroke-width="0.8"/>
<line x1="110.80" y1="161.5" x2="110.80" y2="160.0" stroke="#ababab" stroke-width="0.8"/>
<line x1="121.30" y1="161.5" x2="121.30" y2="160.0" stroke="#ababab" stroke-width="0.8"/>
<line x1="26.8" y1="87.50" x2="25.3" y2="87.50" stroke="#ababab" stroke-width="0.8"/>
<text x="25.9" y="89.60" font-size="5.40" text-anchor="end">20</text>
<line x1="26.8" y1="106.00" x2="25.3" y2="106.00" stroke="#ababab" stroke-width="0.8"/>
<text x="25.9" y="108.10" font-size="5.40" text-anchor="end">15</text>
<line x1="26.8" y1="124.50" x2="25.3" y2="124.50" stroke="#ababab" stroke-width="0.8"/>
<text x="25.9" y="126.60" font-size="5.40" text-anchor="end">10</text>
<line x1="26.8" y1="143.00" x2="25.3" y2="143.00" stroke="#ababab" stroke-width="0.8"/>
<text x="25.9" y="145.10" font-size="5.40" text-anchor="end">5</text>
<line x1="26.8" y1="161.50" x2="25.3" y2="161.50" stroke="#ababab" stroke-width="0.8"/>
<text x="25.9" y="163.60" font-size="5.40" text-anchor="end">0</text>
<line x1="131.8" y1="87.50" x2="133.3" y2="87.50" stroke="#ababab" stroke-width="0.8"/>
<text x="134.0" y="89.60" font-size="5.40">50</text>
<line x1="131.8" y1="102.30" x2="133.3" y2="102.30" stroke="#ababab" stroke-width="0.8"/>
<text x="134.0" y="104.40" font-size="5.40">40</text>
<line x1="131.8" y1="117.10" x2="133.3" y2="117.10" stroke="#ababab" stroke-width="0.8"/>
<text x="134.0" y="119.20" font-size="5.40">30</text>
<line x1="131.8" y1="131.90" x2="133.3" y2="131.90" stroke="#ababab" stroke-width="0.8"/>
<text x="134.0" y="134.00" font-size="5.40">20</text>
<line x1="131.8" y1="146.70" x2="133.3" y2="146.70" stroke="#ababab" stroke-width="0.8"/>
<text x="134.0" y="148.80" font-size="5.40">10</text>
<line x1="131.8" y1="161.50" x2="133.3" y2="161.50" stroke="#ababab" stroke-width="0.8"/>
<text x="134.0" y="163.60" font-size="5.40">0</text>
<text transform="translate(18.2,123.7) rotate(-90)" font-size="5.20" text-anchor="middle">N(g/kg)</text>
<text transform="translate(143.8,123.7) rotate(-90)" font-size="5.20" text-anchor="middle">SW(%)</text>
<line x1="37.4" y1="128.5" x2="118.2" y2="109.9" stroke="#3a9a3a" stroke-width="0.80"/>
<circle cx="37.90" cy="122.05" r="1.70" fill="url(#g2)" stroke="none"/>
<circle cx="41.40" cy="118.15" r="1.70" fill="url(#g2)" stroke="none"/>
<circle cx="39.30" cy="127.65" r="1.70" fill="url(#g2)" stroke="none"/>
<circle cx="43.70" cy="125.65" r="1.70" fill="url(#g2)" stroke="none"/>
<circle cx="51.30" cy="126.15" r="1.70" fill="url(#g2)" stroke="none"/>
<circle cx="53.70" cy="117.35" r="1.70" fill="url(#g2)" stroke="none"/>
<circle cx="50.50" cy="135.65" r="1.70" fill="url(#g2)" stroke="none"/>
<circle cx="61.00" cy="112.85" r="1.70" fill="url(#g2)" stroke="none"/>
<circle cx="64.00" cy="113.75" r="1.70" fill="url(#g2)" stroke="none"/>
<circle cx="60.10" cy="122.55" r="1.70" fill="url(#g2)" stroke="none"/>
<circle cx="64.00" cy="119.95" r="1.70" fill="url(#g2)" stroke="none"/>
<circle cx="68.50" cy="119.05" r="1.70" fill="url(#g2)" stroke="none"/>
<circle cx="60.50" cy="128.75" r="1.70" fill="url(#g2)" stroke="none"/>
<circle cx="72.50" cy="128.45" r="1.70" fill="url(#g2)" stroke="none"/>
<circle cx="67.70" cy="134.45" r="1.70" fill="url(#g2)" stroke="none"/>
<circle cx="57.10" cy="146.25" r="1.70" fill="url(#g2)" stroke="none"/>
<circle cx="84.50" cy="113.85" r="1.70" fill="url(#g2)" stroke="none"/>
<circle cx="84.70" cy="119.65" r="1.70" fill="url(#g2)" stroke="none"/>
<circle cx="89.60" cy="120.55" r="1.70" fill="url(#g2)" stroke="none"/>
<circle cx="92.70" cy="113.75" r="1.70" fill="url(#g2)" stroke="none"/>
<circle cx="95.30" cy="111.35" r="1.70" fill="url(#g2)" stroke="none"/>
<circle cx="95.70" cy="120.25" r="1.70" fill="url(#g2)" stroke="none"/>
<circle cx="99.80" cy="105.65" r="1.70" fill="url(#g2)" stroke="none"/>
<circle cx="100.60" cy="113.85" r="1.70" fill="url(#g2)" stroke="none"/>
<circle cx="118.30" cy="104.65" r="1.70" fill="url(#g2)" stroke="none"/>
<line x1="37.4" y1="152.1" x2="118.2" y2="146.9" stroke="#55f" stroke-width="0.80"/>
<circle cx="37.50" cy="152.65" r="1.70" fill="url(#g3)" stroke="none"/>
<circle cx="39.20" cy="151.45" r="1.70" fill="url(#g3)" stroke="none"/>
<circle cx="41.60" cy="153.65" r="1.70" fill="url(#g3)" stroke="none"/>
<circle cx="44.10" cy="151.15" r="1.70" fill="url(#g3)" stroke="none"/>
<circle cx="50.20" cy="152.05" r="1.70" fill="url(#g3)" stroke="none"/>
<circle cx="53.50" cy="151.75" r="1.70" fill="url(#g3)" stroke="none"/>
<circle cx="56.20" cy="151.75" r="1.70" fill="url(#g3)" stroke="none"/>
<circle cx="57.10" cy="153.05" r="1.70" fill="url(#g3)" stroke="none"/>
<circle cx="60.10" cy="148.65" r="1.70" fill="url(#g3)" stroke="none"/>
<circle cx="60.60" cy="150.45" r="1.70" fill="url(#g3)" stroke="none"/>
<circle cx="61.10" cy="152.85" r="1.70" fill="url(#g3)" stroke="none"/>
<circle cx="63.90" cy="145.15" r="1.70" fill="url(#g3)" stroke="none"/>
<circle cx="64.20" cy="149.55" r="1.70" fill="url(#g3)" stroke="none"/>
<circle cx="67.50" cy="150.75" r="1.70" fill="url(#g3)" stroke="none"/>
<circle cx="68.60" cy="153.35" r="1.70" fill="url(#g3)" stroke="none"/>
<circle cx="72.50" cy="149.85" r="1.70" fill="url(#g3)" stroke="none"/>
<circle cx="84.50" cy="147.05" r="1.70" fill="url(#g3)" stroke="none"/>
<circle cx="84.70" cy="151.75" r="1.70" fill="url(#g3)" stroke="none"/>
<circle cx="89.20" cy="143.25" r="1.70" fill="url(#g3)" stroke="none"/>
<circle cx="89.90" cy="149.35" r="1.70" fill="url(#g3)" stroke="none"/>
<circle cx="93.00" cy="150.25" r="1.70" fill="url(#g3)" stroke="none"/>
<circle cx="94.90" cy="149.55" r="1.70" fill="url(#g3)" stroke="none"/>
<circle cx="95.20" cy="151.75" r="1.70" fill="url(#g3)" stroke="none"/>
<circle cx="96.00" cy="145.05" r="1.70" fill="url(#g3)" stroke="none"/>
<circle cx="99.90" cy="149.55" r="1.70" fill="url(#g3)" stroke="none"/>
<circle cx="100.90" cy="149.35" r="1.70" fill="url(#g3)" stroke="none"/>
<circle cx="118.30" cy="148.35" r="1.70" fill="url(#g3)" stroke="none"/>
<text x="34.3" y="98.1" font-size="5.05">SW: <tspan font-style="italic">y</tspan>=22.26+0.164x</text>
<text x="34.3" y="105.4" font-size="5.05"><tspan font-style="italic">R</tspan><tspan dy="-1.8" font-size="3.28">2</tspan><tspan dy="1.8">=0.31, <tspan font-style="italic">P</tspan> &lt;0.05</tspan></text>
<text x="85.2" y="132.2" font-size="5.05">N: <tspan font-style="italic">y</tspan>=2.55+0.018x</text>
<text x="85.2" y="139.3" font-size="5.05"><tspan font-style="italic">R</tspan><tspan dy="-1.8" font-size="3.28">2</tspan><tspan dy="1.8">=0.29, <tspan font-style="italic">P</tspan> &lt;0.05</tspan></text>
<rect x="160.3" y="87.5" width="105" height="74" fill="none" stroke="#ababab" stroke-width="1"/>
<line x1="169.05" y1="161.5" x2="169.05" y2="160.0" stroke="#ababab" stroke-width="0.8"/>
<line x1="186.55" y1="161.5" x2="186.55" y2="160.0" stroke="#ababab" stroke-width="0.8"/>
<line x1="204.05" y1="161.5" x2="204.05" y2="160.0" stroke="#ababab" stroke-width="0.8"/>
<line x1="221.55" y1="161.5" x2="221.55" y2="160.0" stroke="#ababab" stroke-width="0.8"/>
<line x1="239.05" y1="161.5" x2="239.05" y2="160.0" stroke="#ababab" stroke-width="0.8"/>
<line x1="256.55" y1="161.5" x2="256.55" y2="160.0" stroke="#ababab" stroke-width="0.8"/>
<line x1="160.3" y1="87.50" x2="158.8" y2="87.50" stroke="#ababab" stroke-width="0.8"/>
<text x="159.4" y="89.60" font-size="5.40" text-anchor="end">7</text>
<line x1="160.3" y1="100.95" x2="158.8" y2="100.95" stroke="#ababab" stroke-width="0.8"/>
<text x="159.4" y="103.05" font-size="5.40" text-anchor="end">6</text>
<line x1="160.3" y1="114.41" x2="158.8" y2="114.41" stroke="#ababab" stroke-width="0.8"/>
<text x="159.4" y="116.51" font-size="5.40" text-anchor="end">5</text>
<line x1="160.3" y1="127.86" x2="158.8" y2="127.86" stroke="#ababab" stroke-width="0.8"/>
<text x="159.4" y="129.96" font-size="5.40" text-anchor="end">4</text>
<line x1="160.3" y1="141.32" x2="158.8" y2="141.32" stroke="#ababab" stroke-width="0.8"/>
<text x="159.4" y="143.42" font-size="5.40" text-anchor="end">3</text>
<line x1="160.3" y1="154.77" x2="158.8" y2="154.77" stroke="#ababab" stroke-width="0.8"/>
<text x="159.4" y="156.87" font-size="5.40" text-anchor="end">2</text>
<line x1="265.3" y1="87.50" x2="266.8" y2="87.50" stroke="#ababab" stroke-width="0.8"/>
<text x="267.5" y="89.60" font-size="5.40">42</text>
<line x1="265.3" y1="99.83" x2="266.8" y2="99.83" stroke="#ababab" stroke-width="0.8"/>
<text x="267.5" y="101.93" font-size="5.40">35</text>
<line x1="265.3" y1="112.17" x2="266.8" y2="112.17" stroke="#ababab" stroke-width="0.8"/>
<text x="267.5" y="114.27" font-size="5.40">28</text>
<line x1="265.3" y1="124.50" x2="266.8" y2="124.50" stroke="#ababab" stroke-width="0.8"/>
<text x="267.5" y="126.60" font-size="5.40">21</text>
<line x1="265.3" y1="136.83" x2="266.8" y2="136.83" stroke="#ababab" stroke-width="0.8"/>
<text x="267.5" y="138.93" font-size="5.40">14</text>
<line x1="265.3" y1="149.17" x2="266.8" y2="149.17" stroke="#ababab" stroke-width="0.8"/>
<text x="267.5" y="151.27" font-size="5.40">7</text>
<line x1="265.3" y1="161.50" x2="266.8" y2="161.50" stroke="#ababab" stroke-width="0.8"/>
<text x="267.5" y="163.60" font-size="5.40">0</text>
<text transform="translate(151.1,123.7) rotate(-90)" font-size="5.20" text-anchor="middle">N(g/kg)</text>
<text transform="translate(277.6,123.7) rotate(-90)" font-size="5.20" text-anchor="middle">SW(%)</text>
<line x1="170.5" y1="97.6" x2="254.5" y2="120.9" stroke="#3a9a3a" stroke-width="0.80"/>
<circle cx="170.70" cy="93.95" r="1.70" fill="url(#g2)" stroke="none"/>
<circle cx="197.70" cy="94.75" r="1.70" fill="url(#g2)" stroke="none"/>
<circle cx="193.30" cy="104.95" r="1.70" fill="url(#g2)" stroke="none"/>
<circle cx="204.80" cy="101.85" r="1.70" fill="url(#g2)" stroke="none"/>
<circle cx="203.70" cy="104.85" r="1.70" fill="url(#g2)" stroke="none"/>
<circle cx="203.10" cy="112.75" r="1.70" fill="url(#g2)" stroke="none"/>
<circle cx="205.30" cy="112.55" r="1.70" fill="url(#g2)" stroke="none"/>
<circle cx="210.80" cy="112.75" r="1.70" fill="url(#g2)" stroke="none"/>
<circle cx="213.50" cy="111.65" r="1.70" fill="url(#g2)" stroke="none"/>
<circle cx="222.10" cy="104.95" r="1.70" fill="url(#g2)" stroke="none"/>
<circle cx="228.60" cy="109.85" r="1.70" fill="url(#g2)" stroke="none"/>
<circle cx="230.50" cy="114.35" r="1.70" fill="url(#g2)" stroke="none"/>
<circle cx="238.60" cy="110.95" r="1.70" fill="url(#g2)" stroke="none"/>
<circle cx="240.40" cy="104.85" r="1.70" fill="url(#g2)" stroke="none"/>
<circle cx="243.90" cy="103.85" r="1.70" fill="url(#g2)" stroke="none"/>
<circle cx="244.70" cy="111.85" r="1.70" fill="url(#g2)" stroke="none"/>
<circle cx="248.80" cy="108.75" r="1.70" fill="url(#g2)" stroke="none"/>
<circle cx="250.20" cy="114.65" r="1.70" fill="url(#g2)" stroke="none"/>
<circle cx="240.30" cy="118.45" r="1.70" fill="url(#g2)" stroke="none"/>
<circle cx="238.90" cy="120.85" r="1.70" fill="url(#g2)" stroke="none"/>
<circle cx="233.40" cy="122.05" r="1.70" fill="url(#g2)" stroke="none"/>
<circle cx="254.30" cy="119.45" r="1.70" fill="url(#g2)" stroke="none"/>
<circle cx="230.60" cy="129.35" r="1.70" fill="url(#g2)" stroke="none"/>
<circle cx="238.70" cy="130.75" r="1.70" fill="url(#g2)" stroke="none"/>
<circle cx="236.80" cy="143.65" r="1.70" fill="url(#g2)" stroke="none"/>
<line x1="170.5" y1="129.9" x2="254.5" y2="144.1" stroke="#55f" stroke-width="0.80"/>
<circle cx="210.70" cy="115.55" r="1.70" fill="url(#g3)" stroke="none"/>
<circle cx="205.30" cy="121.85" r="1.70" fill="url(#g3)" stroke="none"/>
<circle cx="170.70" cy="132.95" r="1.70" fill="url(#g3)" stroke="none"/>
<circle cx="193.30" cy="137.65" r="1.70" fill="url(#g3)" stroke="none"/>
<circle cx="197.70" cy="137.75" r="1.70" fill="url(#g3)" stroke="none"/>
<circle cx="203.70" cy="133.95" r="1.70" fill="url(#g3)" stroke="none"/>
<circle cx="203.70" cy="140.55" r="1.70" fill="url(#g3)" stroke="none"/>
<circle cx="205.10" cy="144.05" r="1.70" fill="url(#g3)" stroke="none"/>
<circle cx="213.80" cy="136.95" r="1.70" fill="url(#g3)" stroke="none"/>
<circle cx="214.00" cy="144.85" r="1.70" fill="url(#g3)" stroke="none"/>
<circle cx="222.10" cy="128.35" r="1.70" fill="url(#g3)" stroke="none"/>
<circle cx="240.50" cy="122.05" r="1.70" fill="url(#g3)" stroke="none"/>
<circle cx="233.30" cy="137.75" r="1.70" fill="url(#g3)" stroke="none"/>
<circle cx="230.60" cy="143.15" r="1.70" fill="url(#g3)" stroke="none"/>
<circle cx="233.60" cy="145.65" r="1.70" fill="url(#g3)" stroke="none"/>
<circle cx="230.40" cy="148.85" r="1.70" fill="url(#g3)" stroke="none"/>
<circle cx="228.80" cy="152.15" r="1.70" fill="url(#g3)" stroke="none"/>
<circle cx="236.40" cy="149.55" r="1.70" fill="url(#g3)" stroke="none"/>
<circle cx="238.70" cy="146.75" r="1.70" fill="url(#g3)" stroke="none"/>
<circle cx="238.90" cy="151.45" r="1.70" fill="url(#g3)" stroke="none"/>
<circle cx="239.80" cy="144.25" r="1.70" fill="url(#g3)" stroke="none"/>
<circle cx="243.70" cy="148.05" r="1.70" fill="url(#g3)" stroke="none"/>
<circle cx="245.10" cy="136.45" r="1.70" fill="url(#g3)" stroke="none"/>
<circle cx="250.20" cy="135.95" r="1.70" fill="url(#g3)" stroke="none"/>
<circle cx="248.80" cy="144.75" r="1.70" fill="url(#g3)" stroke="none"/>
<circle cx="254.60" cy="145.95" r="1.70" fill="url(#g3)" stroke="none"/>
<text x="219.1" y="93.8" font-size="5.05">SW:<tspan font-style="italic">y</tspan>=41.94-0.275x</text>
<text x="219.1" y="101.8" font-size="5.05"><tspan font-style="italic">R</tspan><tspan dy="-1.8" font-size="3.28">2</tspan><tspan dy="1.8">=0.28, <tspan font-style="italic">P</tspan> &lt;0.05</tspan></text>
<text x="163.6" y="147.3" font-size="5.05">N:<tspan font-style="italic">y</tspan>=4.30-0.022x</text>
<text x="163.6" y="155.2" font-size="5.05"><tspan font-style="italic">R</tspan><tspan dy="-1.8" font-size="3.28">2</tspan><tspan dy="1.8">=0.14, <tspan font-style="italic">P</tspan> &gt;0.05</tspan></text>
<rect x="293.4" y="87.5" width="105" height="74" fill="none" stroke="#ababab" stroke-width="1"/>
<line x1="302.15" y1="161.5" x2="302.15" y2="160.0" stroke="#ababab" stroke-width="0.8"/>
<line x1="319.65" y1="161.5" x2="319.65" y2="160.0" stroke="#ababab" stroke-width="0.8"/>
<line x1="337.15" y1="161.5" x2="337.15" y2="160.0" stroke="#ababab" stroke-width="0.8"/>
<line x1="354.65" y1="161.5" x2="354.65" y2="160.0" stroke="#ababab" stroke-width="0.8"/>
<line x1="372.15" y1="161.5" x2="372.15" y2="160.0" stroke="#ababab" stroke-width="0.8"/>
<line x1="389.65" y1="161.5" x2="389.65" y2="160.0" stroke="#ababab" stroke-width="0.8"/>
<line x1="293.4" y1="87.50" x2="291.9" y2="87.50" stroke="#ababab" stroke-width="0.8"/>
<text x="292.5" y="89.60" font-size="5.40" text-anchor="end">8</text>
<line x1="293.4" y1="98.88" x2="291.9" y2="98.88" stroke="#ababab" stroke-width="0.8"/>
<text x="292.5" y="100.98" font-size="5.40" text-anchor="end">7</text>
<line x1="293.4" y1="110.27" x2="291.9" y2="110.27" stroke="#ababab" stroke-width="0.8"/>
<text x="292.5" y="112.37" font-size="5.40" text-anchor="end">6</text>
<line x1="293.4" y1="121.65" x2="291.9" y2="121.65" stroke="#ababab" stroke-width="0.8"/>
<text x="292.5" y="123.75" font-size="5.40" text-anchor="end">5</text>
<line x1="293.4" y1="133.04" x2="291.9" y2="133.04" stroke="#ababab" stroke-width="0.8"/>
<text x="292.5" y="135.14" font-size="5.40" text-anchor="end">4</text>
<line x1="293.4" y1="144.42" x2="291.9" y2="144.42" stroke="#ababab" stroke-width="0.8"/>
<text x="292.5" y="146.52" font-size="5.40" text-anchor="end">3</text>
<line x1="293.4" y1="155.81" x2="291.9" y2="155.81" stroke="#ababab" stroke-width="0.8"/>
<text x="292.5" y="157.91" font-size="5.40" text-anchor="end">2</text>
<line x1="398.4" y1="87.50" x2="399.9" y2="87.50" stroke="#ababab" stroke-width="0.8"/>
<text x="400.6" y="89.60" font-size="5.40">40</text>
<line x1="398.4" y1="102.30" x2="399.9" y2="102.30" stroke="#ababab" stroke-width="0.8"/>
<text x="400.6" y="104.40" font-size="5.40">32</text>
<line x1="398.4" y1="117.10" x2="399.9" y2="117.10" stroke="#ababab" stroke-width="0.8"/>
<text x="400.6" y="119.20" font-size="5.40">24</text>
<line x1="398.4" y1="131.90" x2="399.9" y2="131.90" stroke="#ababab" stroke-width="0.8"/>
<text x="400.6" y="134.00" font-size="5.40">16</text>
<line x1="398.4" y1="146.70" x2="399.9" y2="146.70" stroke="#ababab" stroke-width="0.8"/>
<text x="400.6" y="148.80" font-size="5.40">8</text>
<line x1="398.4" y1="161.50" x2="399.9" y2="161.50" stroke="#ababab" stroke-width="0.8"/>
<text x="400.6" y="163.60" font-size="5.40">0</text>
<text transform="translate(286.6,123.7) rotate(-90)" font-size="5.20" text-anchor="middle">N(g/kg)</text>
<text transform="translate(410.0,123.7) rotate(-90)" font-size="5.20" text-anchor="middle">SW(%)</text>
<line x1="304.7" y1="105.9" x2="388.6" y2="122.6" stroke="#3a9a3a" stroke-width="0.80"/>
<circle cx="305.10" cy="90.45" r="1.70" fill="url(#g2)" stroke="none"/>
<circle cx="306.90" cy="91.75" r="1.70" fill="url(#g2)" stroke="none"/>
<circle cx="310.90" cy="98.85" r="1.70" fill="url(#g2)" stroke="none"/>
<circle cx="308.50" cy="102.15" r="1.70" fill="url(#g2)" stroke="none"/>
<circle cx="315.60" cy="101.85" r="1.70" fill="url(#g2)" stroke="none"/>
<circle cx="318.80" cy="102.05" r="1.70" fill="url(#g2)" stroke="none"/>
<circle cx="327.60" cy="100.75" r="1.70" fill="url(#g2)" stroke="none"/>
<circle cx="331.10" cy="106.25" r="1.70" fill="url(#g2)" stroke="none"/>
<circle cx="309.60" cy="110.35" r="1.70" fill="url(#g2)" stroke="none"/>
<circle cx="311.20" cy="110.55" r="1.70" fill="url(#g2)" stroke="none"/>
<circle cx="314.70" cy="110.75" r="1.70" fill="url(#g2)" stroke="none"/>
<circle cx="321.00" cy="108.95" r="1.70" fill="url(#g2)" stroke="none"/>
<circle cx="324.70" cy="108.75" r="1.70" fill="url(#g2)" stroke="none"/>
<circle cx="325.10" cy="109.85" r="1.70" fill="url(#g2)" stroke="none"/>
<circle cx="319.80" cy="112.45" r="1.70" fill="url(#g2)" stroke="none"/>
<circle cx="330.20" cy="116.75" r="1.70" fill="url(#g2)" stroke="none"/>
<circle cx="317.40" cy="120.05" r="1.70" fill="url(#g2)" stroke="none"/>
<circle cx="330.70" cy="129.25" r="1.70" fill="url(#g2)" stroke="none"/>
<circle cx="340.40" cy="127.75" r="1.70" fill="url(#g2)" stroke="none"/>
<circle cx="331.10" cy="142.45" r="1.70" fill="url(#g2)" stroke="none"/>
<circle cx="348.80" cy="120.85" r="1.70" fill="url(#g2)" stroke="none"/>
<circle cx="373.10" cy="107.35" r="1.70" fill="url(#g2)" stroke="none"/>
<circle cx="375.30" cy="118.65" r="1.70" fill="url(#g2)" stroke="none"/>
<circle cx="388.40" cy="111.75" r="1.70" fill="url(#g2)" stroke="none"/>
<line x1="304.7" y1="138.1" x2="388.6" y2="155.6" stroke="#55f" stroke-width="0.80"/>
<circle cx="310.30" cy="122.55" r="1.70" fill="url(#g3)" stroke="none"/>
<circle cx="309.70" cy="127.75" r="1.70" fill="url(#g3)" stroke="none"/>
<circle cx="319.10" cy="128.25" r="1.70" fill="url(#g3)" stroke="none"/>
<circle cx="318.40" cy="133.55" r="1.70" fill="url(#g3)" stroke="none"/>
<circle cx="304.80" cy="137.65" r="1.70" fill="url(#g3)" stroke="none"/>
<circle cx="306.80" cy="141.55" r="1.70" fill="url(#g3)" stroke="none"/>
<circle cx="308.70" cy="140.95" r="1.70" fill="url(#g3)" stroke="none"/>
<circle cx="311.70" cy="138.35" r="1.70" fill="url(#g3)" stroke="none"/>
<circle cx="314.50" cy="140.95" r="1.70" fill="url(#g3)" stroke="none"/>
<circle cx="315.80" cy="143.75" r="1.70" fill="url(#g3)" stroke="none"/>
<circle cx="317.80" cy="141.55" r="1.70" fill="url(#g3)" stroke="none"/>
<circle cx="319.70" cy="139.65" r="1.70" fill="url(#g3)" stroke="none"/>
<circle cx="324.90" cy="140.25" r="1.70" fill="url(#g3)" stroke="none"/>
<circle cx="310.60" cy="146.75" r="1.70" fill="url(#g3)" stroke="none"/>
<circle cx="321.00" cy="147.75" r="1.70" fill="url(#g3)" stroke="none"/>
<circle cx="324.60" cy="152.95" r="1.70" fill="url(#g3)" stroke="none"/>
<circle cx="328.10" cy="149.95" r="1.70" fill="url(#g3)" stroke="none"/>
<circle cx="330.50" cy="146.45" r="1.70" fill="url(#g3)" stroke="none"/>
<circle cx="330.70" cy="149.35" r="1.70" fill="url(#g3)" stroke="none"/>
<circle cx="331.10" cy="151.95" r="1.70" fill="url(#g3)" stroke="none"/>
<circle cx="340.40" cy="145.85" r="1.70" fill="url(#g3)" stroke="none"/>
<circle cx="348.80" cy="148.05" r="1.70" fill="url(#g3)" stroke="none"/>
<circle cx="375.50" cy="146.95" r="1.70" fill="url(#g3)" stroke="none"/>
<circle cx="373.40" cy="153.45" r="1.70" fill="url(#g3)" stroke="none"/>
<circle cx="388.40" cy="150.85" r="1.70" fill="url(#g3)" stroke="none"/>
<text x="333.6" y="97.3" font-size="5.05">SW:<tspan font-style="italic">y</tspan>=30.34-0.377x</text>
<text x="333.6" y="104.9" font-size="5.05"><tspan font-style="italic">R</tspan><tspan dy="-1.8" font-size="3.28">2</tspan><tspan dy="1.8">=0.14, <tspan font-style="italic">P</tspan> &gt;0.05</tspan></text>
<text x="349.7" y="135.6" font-size="5.05">N:<tspan font-style="italic">y</tspan>=3.60-0.064x</text>
<text x="348.7" y="143.6" font-size="5.05"><tspan font-style="italic">R</tspan><tspan dy="-1.8" font-size="3.28">2</tspan><tspan dy="1.8">=0.31, <tspan font-style="italic">P</tspan> &lt;0.05</tspan></text>
<rect x="427.5" y="87.5" width="105" height="74" fill="none" stroke="#ababab" stroke-width="1"/>
<line x1="436.25" y1="161.5" x2="436.25" y2="160.0" stroke="#ababab" stroke-width="0.8"/>
<line x1="453.75" y1="161.5" x2="453.75" y2="160.0" stroke="#ababab" stroke-width="0.8"/>
<line x1="471.25" y1="161.5" x2="471.25" y2="160.0" stroke="#ababab" stroke-width="0.8"/>
<line x1="488.75" y1="161.5" x2="488.75" y2="160.0" stroke="#ababab" stroke-width="0.8"/>
<line x1="506.25" y1="161.5" x2="506.25" y2="160.0" stroke="#ababab" stroke-width="0.8"/>
<line x1="523.75" y1="161.5" x2="523.75" y2="160.0" stroke="#ababab" stroke-width="0.8"/>
<line x1="427.5" y1="87.50" x2="426.0" y2="87.50" stroke="#ababab" stroke-width="0.8"/>
<text x="426.6" y="89.60" font-size="5.40" text-anchor="end">10</text>
<line x1="427.5" y1="102.30" x2="426.0" y2="102.30" stroke="#ababab" stroke-width="0.8"/>
<text x="426.6" y="104.40" font-size="5.40" text-anchor="end">8</text>
<line x1="427.5" y1="117.10" x2="426.0" y2="117.10" stroke="#ababab" stroke-width="0.8"/>
<text x="426.6" y="119.20" font-size="5.40" text-anchor="end">6</text>
<line x1="427.5" y1="131.90" x2="426.0" y2="131.90" stroke="#ababab" stroke-width="0.8"/>
<text x="426.6" y="134.00" font-size="5.40" text-anchor="end">4</text>
<line x1="427.5" y1="146.70" x2="426.0" y2="146.70" stroke="#ababab" stroke-width="0.8"/>
<text x="426.6" y="148.80" font-size="5.40" text-anchor="end">2</text>
<line x1="427.5" y1="161.50" x2="426.0" y2="161.50" stroke="#ababab" stroke-width="0.8"/>
<text x="426.6" y="163.60" font-size="5.40" text-anchor="end">0</text>
<line x1="532.5" y1="87.50" x2="534.0" y2="87.50" stroke="#ababab" stroke-width="0.8"/>
<text x="534.7" y="89.60" font-size="5.40">50</text>
<line x1="532.5" y1="99.83" x2="534.0" y2="99.83" stroke="#ababab" stroke-width="0.8"/>
<text x="534.7" y="101.93" font-size="5.40">40</text>
<line x1="532.5" y1="112.17" x2="534.0" y2="112.17" stroke="#ababab" stroke-width="0.8"/>
<text x="534.7" y="114.27" font-size="5.40">30</text>
<line x1="532.5" y1="124.50" x2="534.0" y2="124.50" stroke="#ababab" stroke-width="0.8"/>
<text x="534.7" y="126.60" font-size="5.40">20</text>
<line x1="532.5" y1="136.83" x2="534.0" y2="136.83" stroke="#ababab" stroke-width="0.8"/>
<text x="534.7" y="138.93" font-size="5.40">10</text>
<line x1="532.5" y1="149.17" x2="534.0" y2="149.17" stroke="#ababab" stroke-width="0.8"/>
<text x="534.7" y="151.27" font-size="5.40">0</text>
<line x1="532.5" y1="161.50" x2="534.0" y2="161.50" stroke="#ababab" stroke-width="0.8"/>
<text x="534.7" y="163.60" font-size="5.40">-10</text>
<text transform="translate(418.8,123.7) rotate(-90)" font-size="5.20" text-anchor="middle">N(g/kg)</text>
<text transform="translate(544.0,123.7) rotate(-90)" font-size="5.20" text-anchor="middle">SW(%)</text>
<line x1="437.6" y1="111.2" x2="523.6" y2="123.7" stroke="#3a9a3a" stroke-width="0.80"/>
<circle cx="441.30" cy="101.95" r="1.70" fill="url(#g2)" stroke="none"/>
<circle cx="445.90" cy="102.65" r="1.70" fill="url(#g2)" stroke="none"/>
<circle cx="443.30" cy="107.55" r="1.70" fill="url(#g2)" stroke="none"/>
<circle cx="437.70" cy="109.65" r="1.70" fill="url(#g2)" stroke="none"/>
<circle cx="448.70" cy="109.65" r="1.70" fill="url(#g2)" stroke="none"/>
<circle cx="450.90" cy="109.65" r="1.70" fill="url(#g2)" stroke="none"/>
<circle cx="462.30" cy="108.65" r="1.70" fill="url(#g2)" stroke="none"/>
<circle cx="467.70" cy="109.45" r="1.70" fill="url(#g2)" stroke="none"/>
<circle cx="473.40" cy="112.55" r="1.70" fill="url(#g2)" stroke="none"/>
<circle cx="440.40" cy="115.15" r="1.70" fill="url(#g2)" stroke="none"/>
<circle cx="445.60" cy="115.05" r="1.70" fill="url(#g2)" stroke="none"/>
<circle cx="449.70" cy="114.25" r="1.70" fill="url(#g2)" stroke="none"/>
<circle cx="452.80" cy="115.05" r="1.70" fill="url(#g2)" stroke="none"/>
<circle cx="460.80" cy="116.55" r="1.70" fill="url(#g2)" stroke="none"/>
<circle cx="455.70" cy="121.65" r="1.70" fill="url(#g2)" stroke="none"/>
<circle cx="464.10" cy="121.95" r="1.70" fill="url(#g2)" stroke="none"/>
<circle cx="471.60" cy="119.75" r="1.70" fill="url(#g2)" stroke="none"/>
<circle cx="454.60" cy="126.55" r="1.70" fill="url(#g2)" stroke="none"/>
<circle cx="497.60" cy="120.85" r="1.70" fill="url(#g2)" stroke="none"/>
<circle cx="505.60" cy="116.05" r="1.70" fill="url(#g2)" stroke="none"/>
<circle cx="505.60" cy="127.35" r="1.70" fill="url(#g2)" stroke="none"/>
<circle cx="512.80" cy="113.25" r="1.70" fill="url(#g2)" stroke="none"/>
<circle cx="523.70" cy="119.15" r="1.70" fill="url(#g2)" stroke="none"/>
<circle cx="487.60" cy="136.55" r="1.70" fill="url(#g2)" stroke="none"/>
<line x1="437.6" y1="135.4" x2="523.6" y2="144.5" stroke="#55f" stroke-width="0.80"/>
<circle cx="452.80" cy="125.05" r="1.70" fill="url(#g3)" stroke="none"/>
<circle cx="440.80" cy="128.45" r="1.70" fill="url(#g3)" stroke="none"/>
<circle cx="467.70" cy="128.55" r="1.70" fill="url(#g3)" stroke="none"/>
<circle cx="437.70" cy="131.95" r="1.70" fill="url(#g3)" stroke="none"/>
<circle cx="440.40" cy="135.05" r="1.70" fill="url(#g3)" stroke="none"/>
<circle cx="441.10" cy="136.25" r="1.70" fill="url(#g3)" stroke="none"/>
<circle cx="445.40" cy="135.05" r="1.70" fill="url(#g3)" stroke="none"/>
<circle cx="446.00" cy="136.95" r="1.70" fill="url(#g3)" stroke="none"/>
<circle cx="449.10" cy="137.55" r="1.70" fill="url(#g3)" stroke="none"/>
<circle cx="450.30" cy="136.55" r="1.70" fill="url(#g3)" stroke="none"/>
<circle cx="452.80" cy="136.55" r="1.70" fill="url(#g3)" stroke="none"/>
<circle cx="455.90" cy="137.55" r="1.70" fill="url(#g3)" stroke="none"/>
<circle cx="460.80" cy="136.25" r="1.70" fill="url(#g3)" stroke="none"/>
<circle cx="443.50" cy="140.65" r="1.70" fill="url(#g3)" stroke="none"/>
<circle cx="449.70" cy="141.25" r="1.70" fill="url(#g3)" stroke="none"/>
<circle cx="454.60" cy="140.35" r="1.70" fill="url(#g3)" stroke="none"/>
<circle cx="450.90" cy="144.95" r="1.70" fill="url(#g3)" stroke="none"/>
<circle cx="462.40" cy="142.85" r="1.70" fill="url(#g3)" stroke="none"/>
<circle cx="464.10" cy="141.85" r="1.70" fill="url(#g3)" stroke="none"/>
<circle cx="471.30" cy="142.25" r="1.70" fill="url(#g3)" stroke="none"/>
<circle cx="473.20" cy="140.95" r="1.70" fill="url(#g3)" stroke="none"/>
<circle cx="487.60" cy="143.65" r="1.70" fill="url(#g3)" stroke="none"/>
<circle cx="497.60" cy="141.05" r="1.70" fill="url(#g3)" stroke="none"/>
<circle cx="505.60" cy="142.15" r="1.70" fill="url(#g3)" stroke="none"/>
<circle cx="505.60" cy="143.65" r="1.70" fill="url(#g3)" stroke="none"/>
<circle cx="512.80" cy="145.25" r="1.70" fill="url(#g3)" stroke="none"/>
<circle cx="523.70" cy="140.45" r="1.70" fill="url(#g3)" stroke="none"/>
<text x="477.8" y="95.9" font-size="5.05">SW:<tspan font-style="italic">y</tspan>=30.97-0.411x</text>
<text x="477.8" y="103.9" font-size="5.05"><tspan font-style="italic">R</tspan><tspan dy="-1.8" font-size="3.28">2</tspan><tspan dy="1.8">=0.22, <tspan font-style="italic">P</tspan> &lt;0.05</tspan></text>
<text x="435.6" y="150.7" font-size="5.05">N:<tspan font-style="italic">y</tspan>=3.55-0.050x</text>
<text x="435.3" y="158.2" font-size="5.05"><tspan font-style="italic">R</tspan><tspan dy="-1.8" font-size="3.28">2</tspan><tspan dy="1.8">=0.25, <tspan font-style="italic">P</tspan> &lt;0.05</tspan></text>
<rect x="26.8" y="167.5" width="105" height="74" fill="none" stroke="#ababab" stroke-width="1"/>
<line x1="37.30" y1="241.5" x2="37.30" y2="240.0" stroke="#ababab" stroke-width="0.8"/>
<line x1="47.80" y1="241.5" x2="47.80" y2="240.0" stroke="#ababab" stroke-width="0.8"/>
<line x1="58.30" y1="241.5" x2="58.30" y2="240.0" stroke="#ababab" stroke-width="0.8"/>
<line x1="68.80" y1="241.5" x2="68.80" y2="240.0" stroke="#ababab" stroke-width="0.8"/>
<line x1="79.30" y1="241.5" x2="79.30" y2="240.0" stroke="#ababab" stroke-width="0.8"/>
<line x1="89.80" y1="241.5" x2="89.80" y2="240.0" stroke="#ababab" stroke-width="0.8"/>
<line x1="100.30" y1="241.5" x2="100.30" y2="240.0" stroke="#ababab" stroke-width="0.8"/>
<line x1="110.80" y1="241.5" x2="110.80" y2="240.0" stroke="#ababab" stroke-width="0.8"/>
<line x1="121.30" y1="241.5" x2="121.30" y2="240.0" stroke="#ababab" stroke-width="0.8"/>
<line x1="26.8" y1="167.50" x2="25.3" y2="167.50" stroke="#ababab" stroke-width="0.8"/>
<text x="25.9" y="169.60" font-size="5.40" text-anchor="end">2.0</text>
<line x1="26.8" y1="182.30" x2="25.3" y2="182.30" stroke="#ababab" stroke-width="0.8"/>
<text x="25.9" y="184.40" font-size="5.40" text-anchor="end">1.8</text>
<line x1="26.8" y1="197.10" x2="25.3" y2="197.10" stroke="#ababab" stroke-width="0.8"/>
<text x="25.9" y="199.20" font-size="5.40" text-anchor="end">1.6</text>
<line x1="26.8" y1="211.90" x2="25.3" y2="211.90" stroke="#ababab" stroke-width="0.8"/>
<text x="25.9" y="214.00" font-size="5.40" text-anchor="end">1.4</text>
<line x1="26.8" y1="226.70" x2="25.3" y2="226.70" stroke="#ababab" stroke-width="0.8"/>
<text x="25.9" y="228.80" font-size="5.40" text-anchor="end">1.2</text>
<line x1="26.8" y1="241.50" x2="25.3" y2="241.50" stroke="#ababab" stroke-width="0.8"/>
<text x="25.9" y="243.60" font-size="5.40" text-anchor="end">1.0</text>
<line x1="131.8" y1="167.50" x2="133.3" y2="167.50" stroke="#ababab" stroke-width="0.8"/>
<text x="134.0" y="169.60" font-size="5.40">9</text>
<line x1="131.8" y1="182.30" x2="133.3" y2="182.30" stroke="#ababab" stroke-width="0.8"/>
<text x="134.0" y="184.40" font-size="5.40">8</text>
<line x1="131.8" y1="197.10" x2="133.3" y2="197.10" stroke="#ababab" stroke-width="0.8"/>
<text x="134.0" y="199.20" font-size="5.40">7</text>
<line x1="131.8" y1="211.90" x2="133.3" y2="211.90" stroke="#ababab" stroke-width="0.8"/>
<text x="134.0" y="214.00" font-size="5.40">6</text>
<line x1="131.8" y1="226.70" x2="133.3" y2="226.70" stroke="#ababab" stroke-width="0.8"/>
<text x="134.0" y="228.80" font-size="5.40">5</text>
<line x1="131.8" y1="241.50" x2="133.3" y2="241.50" stroke="#ababab" stroke-width="0.8"/>
<text x="134.0" y="243.60" font-size="5.40">4</text>
<text transform="translate(18.0,204.5) rotate(-90)" font-size="5.20" text-anchor="middle">BD</text>
<text transform="translate(143.0,204.5) rotate(-90)" font-size="5.20" text-anchor="middle">pH</text>
<line x1="37.6" y1="180.2" x2="118.1" y2="195.9" stroke="#b868b0" stroke-width="0.80"/>
<circle cx="37.70" cy="184.05" r="1.70" fill="url(#g4)" stroke="none"/>
<circle cx="39.60" cy="186.75" r="1.70" fill="url(#g4)" stroke="none"/>
<circle cx="41.70" cy="184.35" r="1.70" fill="url(#g4)" stroke="none"/>
<circle cx="43.90" cy="178.35" r="1.70" fill="url(#g4)" stroke="none"/>
<circle cx="51.20" cy="178.35" r="1.70" fill="url(#g4)" stroke="none"/>
<circle cx="50.50" cy="182.75" r="1.70" fill="url(#g4)" stroke="none"/>
<circle cx="53.90" cy="190.25" r="1.70" fill="url(#g4)" stroke="none"/>
<circle cx="57.00" cy="184.25" r="1.70" fill="url(#g4)" stroke="none"/>
<circle cx="60.30" cy="175.55" r="1.70" fill="url(#g4)" stroke="none"/>
<circle cx="60.30" cy="190.25" r="1.70" fill="url(#g4)" stroke="none"/>
<circle cx="61.10" cy="185.65" r="1.70" fill="url(#g4)" stroke="none"/>
<circle cx="63.90" cy="181.35" r="1.70" fill="url(#g4)" stroke="none"/>
<circle cx="64.30" cy="185.65" r="1.70" fill="url(#g4)" stroke="none"/>
<circle cx="67.60" cy="175.55" r="1.70" fill="url(#g4)" stroke="none"/>
<circle cx="68.40" cy="188.75" r="1.70" fill="url(#g4)" stroke="none"/>
<circle cx="72.60" cy="188.75" r="1.70" fill="url(#g4)" stroke="none"/>
<circle cx="84.70" cy="190.05" r="1.70" fill="url(#g4)" stroke="none"/>
<circle cx="84.90" cy="197.45" r="1.70" fill="url(#g4)" stroke="none"/>
<circle cx="89.10" cy="185.65" r="1.70" fill="url(#g4)" stroke="none"/>
<circle cx="92.50" cy="182.75" r="1.70" fill="url(#g4)" stroke="none"/>
<circle cx="89.80" cy="193.15" r="1.70" fill="url(#g4)" stroke="none"/>
<circle cx="96.10" cy="190.05" r="1.70" fill="url(#g4)" stroke="none"/>
<circle cx="95.30" cy="194.25" r="1.70" fill="url(#g4)" stroke="none"/>
<circle cx="95.30" cy="196.05" r="1.70" fill="url(#g4)" stroke="none"/>
<circle cx="100.70" cy="191.45" r="1.70" fill="url(#g4)" stroke="none"/>
<circle cx="100.00" cy="197.45" r="1.70" fill="url(#g4)" stroke="none"/>
<circle cx="118.20" cy="197.45" r="1.70" fill="url(#g4)" stroke="none"/>
<line x1="37.6" y1="223.8" x2="118.0" y2="231.3" stroke="#ff9a50" stroke-width="0.80"/>
<circle cx="37.70" cy="213.45" r="1.70" fill="url(#g5)" stroke="none"/>
<circle cx="39.30" cy="217.25" r="1.70" fill="url(#g5)" stroke="none"/>
<circle cx="41.40" cy="221.85" r="1.70" fill="url(#g5)" stroke="none"/>
<circle cx="43.90" cy="231.45" r="1.70" fill="url(#g5)" stroke="none"/>
<circle cx="50.50" cy="230.65" r="1.70" fill="url(#g5)" stroke="none"/>
<circle cx="51.20" cy="233.65" r="1.70" fill="url(#g5)" stroke="none"/>
<circle cx="53.90" cy="228.95" r="1.70" fill="url(#g5)" stroke="none"/>
<circle cx="57.00" cy="229.75" r="1.70" fill="url(#g5)" stroke="none"/>
<circle cx="60.30" cy="220.25" r="1.70" fill="url(#g5)" stroke="none"/>
<circle cx="60.10" cy="231.95" r="1.70" fill="url(#g5)" stroke="none"/>
<circle cx="61.10" cy="227.65" r="1.70" fill="url(#g5)" stroke="none"/>
<circle cx="64.10" cy="228.45" r="1.70" fill="url(#g5)" stroke="none"/>
<circle cx="64.10" cy="232.15" r="1.70" fill="url(#g5)" stroke="none"/>
<circle cx="67.60" cy="221.85" r="1.70" fill="url(#g5)" stroke="none"/>
<circle cx="68.40" cy="225.95" r="1.70" fill="url(#g5)" stroke="none"/>
<circle cx="72.50" cy="223.25" r="1.70" fill="url(#g5)" stroke="none"/>
<circle cx="84.70" cy="227.65" r="1.70" fill="url(#g5)" stroke="none"/>
<circle cx="85.00" cy="231.35" r="1.70" fill="url(#g5)" stroke="none"/>
<circle cx="89.10" cy="221.85" r="1.70" fill="url(#g5)" stroke="none"/>
<circle cx="89.70" cy="225.55" r="1.70" fill="url(#g5)" stroke="none"/>
<circle cx="93.00" cy="224.55" r="1.70" fill="url(#g5)" stroke="none"/>
<circle cx="96.10" cy="224.55" r="1.70" fill="url(#g5)" stroke="none"/>
<circle cx="95.10" cy="227.65" r="1.70" fill="url(#g5)" stroke="none"/>
<circle cx="95.20" cy="232.55" r="1.70" fill="url(#g5)" stroke="none"/>
<circle cx="100.70" cy="229.65" r="1.70" fill="url(#g5)" stroke="none"/>
<circle cx="99.80" cy="236.45" r="1.70" fill="url(#g5)" stroke="none"/>
<circle cx="117.90" cy="235.05" r="1.70" fill="url(#g5)" stroke="none"/>
<text x="92.8" y="173.8" font-size="5.05">pH:<tspan font-style="italic">y</tspan>=8.15-0.014x</text>
<text x="92.0" y="181.2" font-size="5.05"><tspan font-style="italic">R</tspan><tspan dy="-1.8" font-size="3.28">2</tspan><tspan dy="1.8">=0.43, <tspan font-style="italic">P</tspan> &lt;0.001</tspan></text>
<text x="91.6" y="209.6" font-size="5.05">BD:<tspan font-style="italic">y</tspan>=1.24-0.001x</text>
<text x="91.6" y="217.5" font-size="5.05"><tspan font-style="italic">R</tspan><tspan dy="-1.8" font-size="3.28">2</tspan><tspan dy="1.8">=0.15, <tspan font-style="italic">P</tspan> &lt;0.05</tspan></text>
<rect x="160.3" y="167.5" width="105" height="74" fill="none" stroke="#ababab" stroke-width="1"/>
<line x1="169.05" y1="241.5" x2="169.05" y2="240.0" stroke="#ababab" stroke-width="0.8"/>
<line x1="186.55" y1="241.5" x2="186.55" y2="240.0" stroke="#ababab" stroke-width="0.8"/>
<line x1="204.05" y1="241.5" x2="204.05" y2="240.0" stroke="#ababab" stroke-width="0.8"/>
<line x1="221.55" y1="241.5" x2="221.55" y2="240.0" stroke="#ababab" stroke-width="0.8"/>
<line x1="239.05" y1="241.5" x2="239.05" y2="240.0" stroke="#ababab" stroke-width="0.8"/>
<line x1="256.55" y1="241.5" x2="256.55" y2="240.0" stroke="#ababab" stroke-width="0.8"/>
<line x1="160.3" y1="167.50" x2="158.8" y2="167.50" stroke="#ababab" stroke-width="0.8"/>
<text x="159.4" y="169.60" font-size="5.40" text-anchor="end">1.4</text>
<line x1="160.3" y1="186.00" x2="158.8" y2="186.00" stroke="#ababab" stroke-width="0.8"/>
<text x="159.4" y="188.10" font-size="5.40" text-anchor="end">1.2</text>
<line x1="160.3" y1="204.50" x2="158.8" y2="204.50" stroke="#ababab" stroke-width="0.8"/>
<text x="159.4" y="206.60" font-size="5.40" text-anchor="end">1.0</text>
<line x1="160.3" y1="223.00" x2="158.8" y2="223.00" stroke="#ababab" stroke-width="0.8"/>
<text x="159.4" y="225.10" font-size="5.40" text-anchor="end">0.8</text>
<line x1="160.3" y1="241.50" x2="158.8" y2="241.50" stroke="#ababab" stroke-width="0.8"/>
<text x="159.4" y="243.60" font-size="5.40" text-anchor="end">0.6</text>
<line x1="265.3" y1="167.50" x2="266.8" y2="167.50" stroke="#ababab" stroke-width="0.8"/>
<text x="267.5" y="169.60" font-size="5.40">12</text>
<line x1="265.3" y1="179.83" x2="266.8" y2="179.83" stroke="#ababab" stroke-width="0.8"/>
<text x="267.5" y="181.93" font-size="5.40">11</text>
<line x1="265.3" y1="192.17" x2="266.8" y2="192.17" stroke="#ababab" stroke-width="0.8"/>
<text x="267.5" y="194.27" font-size="5.40">10</text>
<line x1="265.3" y1="204.50" x2="266.8" y2="204.50" stroke="#ababab" stroke-width="0.8"/>
<text x="267.5" y="206.60" font-size="5.40">9</text>
<line x1="265.3" y1="216.83" x2="266.8" y2="216.83" stroke="#ababab" stroke-width="0.8"/>
<text x="267.5" y="218.93" font-size="5.40">8</text>
<line x1="265.3" y1="229.17" x2="266.8" y2="229.17" stroke="#ababab" stroke-width="0.8"/>
<text x="267.5" y="231.27" font-size="5.40">7</text>
<line x1="265.3" y1="241.50" x2="266.8" y2="241.50" stroke="#ababab" stroke-width="0.8"/>
<text x="267.5" y="243.60" font-size="5.40">6</text>
<text transform="translate(150.0,204.5) rotate(-90)" font-size="5.20" text-anchor="middle">BD</text>
<text transform="translate(278.3,204.5) rotate(-90)" font-size="5.20" text-anchor="middle">pH</text>
<line x1="170.6" y1="189.6" x2="254.5" y2="185.0" stroke="#ff9a50" stroke-width="0.80"/>
<circle cx="170.70" cy="196.75" r="1.70" fill="url(#g5)" stroke="none"/>
<circle cx="193.50" cy="190.25" r="1.70" fill="url(#g5)" stroke="none"/>
<circle cx="197.70" cy="198.55" r="1.70" fill="url(#g5)" stroke="none"/>
<circle cx="203.50" cy="183.85" r="1.70" fill="url(#g5)" stroke="none"/>
<circle cx="205.00" cy="183.85" r="1.70" fill="url(#g5)" stroke="none"/>
<circle cx="203.50" cy="187.65" r="1.70" fill="url(#g5)" stroke="none"/>
<circle cx="204.80" cy="193.85" r="1.70" fill="url(#g5)" stroke="none"/>
<circle cx="210.60" cy="179.95" r="1.70" fill="url(#g5)" stroke="none"/>
<circle cx="213.60" cy="184.85" r="1.70" fill="url(#g5)" stroke="none"/>
<circle cx="213.80" cy="191.75" r="1.70" fill="url(#g5)" stroke="none"/>
<circle cx="221.90" cy="187.55" r="1.70" fill="url(#g5)" stroke="none"/>
<circle cx="230.30" cy="169.65" r="1.70" fill="url(#g5)" stroke="none"/>
<circle cx="228.40" cy="179.95" r="1.70" fill="url(#g5)" stroke="none"/>
<circle cx="230.50" cy="179.95" r="1.70" fill="url(#g5)" stroke="none"/>
<circle cx="233.50" cy="177.85" r="1.70" fill="url(#g5)" stroke="none"/>
<circle cx="233.30" cy="181.85" r="1.70" fill="url(#g5)" stroke="none"/>
<circle cx="238.60" cy="174.45" r="1.70" fill="url(#g5)" stroke="none"/>
<circle cx="238.70" cy="185.35" r="1.70" fill="url(#g5)" stroke="none"/>
<circle cx="236.20" cy="190.05" r="1.70" fill="url(#g5)" stroke="none"/>
<circle cx="238.20" cy="190.75" r="1.70" fill="url(#g5)" stroke="none"/>
<circle cx="239.50" cy="191.65" r="1.70" fill="url(#g5)" stroke="none"/>
<circle cx="240.60" cy="192.75" r="1.70" fill="url(#g5)" stroke="none"/>
<circle cx="243.90" cy="187.05" r="1.70" fill="url(#g5)" stroke="none"/>
<circle cx="245.00" cy="188.15" r="1.70" fill="url(#g5)" stroke="none"/>
<circle cx="248.80" cy="188.95" r="1.70" fill="url(#g5)" stroke="none"/>
<circle cx="250.20" cy="192.75" r="1.70" fill="url(#g5)" stroke="none"/>
<circle cx="254.40" cy="194.75" r="1.70" fill="url(#g5)" stroke="none"/>
<line x1="170.6" y1="229.1" x2="254.5" y2="215.8" stroke="#b868b0" stroke-width="0.80"/>
<circle cx="171.00" cy="229.55" r="1.70" fill="url(#g4)" stroke="none"/>
<circle cx="193.50" cy="224.65" r="1.70" fill="url(#g4)" stroke="none"/>
<circle cx="197.80" cy="229.55" r="1.70" fill="url(#g4)" stroke="none"/>
<circle cx="203.40" cy="217.15" r="1.70" fill="url(#g4)" stroke="none"/>
<circle cx="205.60" cy="223.15" r="1.70" fill="url(#g4)" stroke="none"/>
<circle cx="203.40" cy="226.55" r="1.70" fill="url(#g4)" stroke="none"/>
<circle cx="204.80" cy="228.35" r="1.70" fill="url(#g4)" stroke="none"/>
<circle cx="210.70" cy="219.65" r="1.70" fill="url(#g4)" stroke="none"/>
<circle cx="213.60" cy="225.85" r="1.70" fill="url(#g4)" stroke="none"/>
<circle cx="213.70" cy="229.55" r="1.70" fill="url(#g4)" stroke="none"/>
<circle cx="221.80" cy="223.35" r="1.70" fill="url(#g4)" stroke="none"/>
<circle cx="230.20" cy="210.75" r="1.70" fill="url(#g4)" stroke="none"/>
<circle cx="233.60" cy="210.75" r="1.70" fill="url(#g4)" stroke="none"/>
<circle cx="228.60" cy="218.45" r="1.70" fill="url(#g4)" stroke="none"/>
<circle cx="230.20" cy="218.75" r="1.70" fill="url(#g4)" stroke="none"/>
<circle cx="233.20" cy="222.15" r="1.70" fill="url(#g4)" stroke="none"/>
<circle cx="236.40" cy="218.45" r="1.70" fill="url(#g4)" stroke="none"/>
<circle cx="238.50" cy="217.15" r="1.70" fill="url(#g4)" stroke="none"/>
<circle cx="239.10" cy="220.05" r="1.70" fill="url(#g4)" stroke="none"/>
<circle cx="238.80" cy="222.15" r="1.70" fill="url(#g4)" stroke="none"/>
<circle cx="240.60" cy="213.45" r="1.70" fill="url(#g4)" stroke="none"/>
<circle cx="243.50" cy="219.65" r="1.70" fill="url(#g4)" stroke="none"/>
<circle cx="245.10" cy="215.95" r="1.70" fill="url(#g4)" stroke="none"/>
<circle cx="248.70" cy="223.35" r="1.70" fill="url(#g4)" stroke="none"/>
<circle cx="250.30" cy="223.35" r="1.70" fill="url(#g4)" stroke="none"/>
<circle cx="254.60" cy="213.45" r="1.70" fill="url(#g4)" stroke="none"/>
<text x="163.9" y="176.2" font-size="5.05">BD: <tspan font-style="italic">y</tspan>=1.14+0.001x</text>
<text x="163.9" y="183.9" font-size="5.05"><tspan font-style="italic">R</tspan><tspan dy="-1.8" font-size="3.28">2</tspan><tspan dy="1.8">=0.03, <tspan font-style="italic">P</tspan> &gt;0.05</tspan></text>
<text x="163.9" y="213.1" font-size="5.05">pH: <tspan font-style="italic">y</tspan>=6.51+0.023x</text>
<text x="163.9" y="220.9" font-size="5.05"><tspan font-style="italic">R</tspan><tspan dy="-1.8" font-size="3.28">2</tspan><tspan dy="1.8">=0.38, <tspan font-style="italic">P</tspan> &lt;0.05</tspan></text>
<rect x="293.4" y="167.5" width="105" height="74" fill="none" stroke="#ababab" stroke-width="1"/>
<line x1="302.15" y1="241.5" x2="302.15" y2="240.0" stroke="#ababab" stroke-width="0.8"/>
<line x1="319.65" y1="241.5" x2="319.65" y2="240.0" stroke="#ababab" stroke-width="0.8"/>
<line x1="337.15" y1="241.5" x2="337.15" y2="240.0" stroke="#ababab" stroke-width="0.8"/>
<line x1="354.65" y1="241.5" x2="354.65" y2="240.0" stroke="#ababab" stroke-width="0.8"/>
<line x1="372.15" y1="241.5" x2="372.15" y2="240.0" stroke="#ababab" stroke-width="0.8"/>
<line x1="389.65" y1="241.5" x2="389.65" y2="240.0" stroke="#ababab" stroke-width="0.8"/>
<line x1="293.4" y1="167.50" x2="291.9" y2="167.50" stroke="#ababab" stroke-width="0.8"/>
<text x="292.5" y="169.60" font-size="5.40" text-anchor="end">1.6</text>
<line x1="293.4" y1="179.83" x2="291.9" y2="179.83" stroke="#ababab" stroke-width="0.8"/>
<text x="292.5" y="181.93" font-size="5.40" text-anchor="end">1.4</text>
<line x1="293.4" y1="192.17" x2="291.9" y2="192.17" stroke="#ababab" stroke-width="0.8"/>
<text x="292.5" y="194.27" font-size="5.40" text-anchor="end">1.2</text>
<line x1="293.4" y1="204.50" x2="291.9" y2="204.50" stroke="#ababab" stroke-width="0.8"/>
<text x="292.5" y="206.60" font-size="5.40" text-anchor="end">1.0</text>
<line x1="293.4" y1="216.83" x2="291.9" y2="216.83" stroke="#ababab" stroke-width="0.8"/>
<text x="292.5" y="218.93" font-size="5.40" text-anchor="end">0.8</text>
<line x1="293.4" y1="229.17" x2="291.9" y2="229.17" stroke="#ababab" stroke-width="0.8"/>
<text x="292.5" y="231.27" font-size="5.40" text-anchor="end">0.6</text>
<line x1="293.4" y1="241.50" x2="291.9" y2="241.50" stroke="#ababab" stroke-width="0.8"/>
<text x="292.5" y="243.60" font-size="5.40" text-anchor="end">0.4</text>
<line x1="398.4" y1="167.50" x2="399.9" y2="167.50" stroke="#ababab" stroke-width="0.8"/>
<text x="400.6" y="169.60" font-size="5.40">10</text>
<line x1="398.4" y1="190.70" x2="399.9" y2="190.70" stroke="#ababab" stroke-width="0.8"/>
<text x="400.6" y="192.80" font-size="5.40">9</text>
<line x1="398.4" y1="213.90" x2="399.9" y2="213.90" stroke="#ababab" stroke-width="0.8"/>
<text x="400.6" y="216.00" font-size="5.40">8</text>
<line x1="398.4" y1="237.10" x2="399.9" y2="237.10" stroke="#ababab" stroke-width="0.8"/>
<text x="400.6" y="239.20" font-size="5.40">7</text>
<text transform="translate(283.1,204.5) rotate(-90)" font-size="5.20" text-anchor="middle">BD</text>
<text transform="translate(409.6,204.5) rotate(-90)" font-size="5.20" text-anchor="middle">pH</text>
<line x1="304.7" y1="196.1" x2="388.6" y2="184.3" stroke="#ff9a50" stroke-width="0.80"/>
<circle cx="304.70" cy="199.25" r="1.70" fill="url(#g5)" stroke="none"/>
<circle cx="306.50" cy="200.75" r="1.70" fill="url(#g5)" stroke="none"/>
<circle cx="308.00" cy="194.95" r="1.70" fill="url(#g5)" stroke="none"/>
<circle cx="310.40" cy="188.45" r="1.70" fill="url(#g5)" stroke="none"/>
<circle cx="309.80" cy="190.05" r="1.70" fill="url(#g5)" stroke="none"/>
<circle cx="311.40" cy="192.75" r="1.70" fill="url(#g5)" stroke="none"/>
<circle cx="310.90" cy="197.45" r="1.70" fill="url(#g5)" stroke="none"/>
<circle cx="314.20" cy="190.95" r="1.70" fill="url(#g5)" stroke="none"/>
<circle cx="315.80" cy="190.05" r="1.70" fill="url(#g5)" stroke="none"/>
<circle cx="317.40" cy="189.45" r="1.70" fill="url(#g5)" stroke="none"/>
<circle cx="318.30" cy="193.05" r="1.70" fill="url(#g5)" stroke="none"/>
<circle cx="319.30" cy="196.75" r="1.70" fill="url(#g5)" stroke="none"/>
<circle cx="321.20" cy="196.05" r="1.70" fill="url(#g5)" stroke="none"/>
<circle cx="324.50" cy="191.65" r="1.70" fill="url(#g5)" stroke="none"/>
<circle cx="325.10" cy="193.35" r="1.70" fill="url(#g5)" stroke="none"/>
<circle cx="327.60" cy="193.55" r="1.70" fill="url(#g5)" stroke="none"/>
<circle cx="330.20" cy="194.35" r="1.70" fill="url(#g5)" stroke="none"/>
<circle cx="330.50" cy="195.75" r="1.70" fill="url(#g5)" stroke="none"/>
<circle cx="330.20" cy="197.85" r="1.70" fill="url(#g5)" stroke="none"/>
<circle cx="340.60" cy="188.15" r="1.70" fill="url(#g5)" stroke="none"/>
<circle cx="348.80" cy="186.75" r="1.70" fill="url(#g5)" stroke="none"/>
<circle cx="375.50" cy="184.55" r="1.70" fill="url(#g5)" stroke="none"/>
<circle cx="373.40" cy="188.25" r="1.70" fill="url(#g5)" stroke="none"/>
<circle cx="388.40" cy="181.75" r="1.70" fill="url(#g5)" stroke="none"/>
<line x1="304.7" y1="226.3" x2="388.6" y2="206.8" stroke="#b868b0" stroke-width="0.80"/>
<circle cx="340.50" cy="202.45" r="1.70" fill="url(#g4)" stroke="none"/>
<circle cx="330.50" cy="207.05" r="1.70" fill="url(#g4)" stroke="none"/>
<circle cx="325.00" cy="211.75" r="1.70" fill="url(#g4)" stroke="none"/>
<circle cx="315.80" cy="213.85" r="1.70" fill="url(#g4)" stroke="none"/>
<circle cx="330.90" cy="214.05" r="1.70" fill="url(#g4)" stroke="none"/>
<circle cx="330.90" cy="216.25" r="1.70" fill="url(#g4)" stroke="none"/>
<circle cx="310.20" cy="218.75" r="1.70" fill="url(#g4)" stroke="none"/>
<circle cx="319.20" cy="218.75" r="1.70" fill="url(#g4)" stroke="none"/>
<circle cx="327.80" cy="218.75" r="1.70" fill="url(#g4)" stroke="none"/>
<circle cx="317.60" cy="223.05" r="1.70" fill="url(#g4)" stroke="none"/>
<circle cx="324.70" cy="223.05" r="1.70" fill="url(#g4)" stroke="none"/>
<circle cx="309.70" cy="225.55" r="1.70" fill="url(#g4)" stroke="none"/>
<circle cx="318.30" cy="225.55" r="1.70" fill="url(#g4)" stroke="none"/>
<circle cx="320.20" cy="225.55" r="1.70" fill="url(#g4)" stroke="none"/>
<circle cx="330.90" cy="225.55" r="1.70" fill="url(#g4)" stroke="none"/>
<circle cx="308.40" cy="228.05" r="1.70" fill="url(#g4)" stroke="none"/>
<circle cx="314.60" cy="229.85" r="1.70" fill="url(#g4)" stroke="none"/>
<circle cx="311.50" cy="231.35" r="1.70" fill="url(#g4)" stroke="none"/>
<circle cx="310.80" cy="234.85" r="1.70" fill="url(#g4)" stroke="none"/>
<circle cx="304.70" cy="236.95" r="1.70" fill="url(#g4)" stroke="none"/>
<circle cx="306.80" cy="236.95" r="1.70" fill="url(#g4)" stroke="none"/>
<circle cx="321.00" cy="236.95" r="1.70" fill="url(#g4)" stroke="none"/>
<circle cx="348.80" cy="202.35" r="1.70" fill="url(#g4)" stroke="none"/>
<circle cx="373.40" cy="216.05" r="1.70" fill="url(#g4)" stroke="none"/>
<circle cx="375.50" cy="219.75" r="1.70" fill="url(#g4)" stroke="none"/>
<circle cx="388.40" cy="216.05" r="1.70" fill="url(#g4)" stroke="none"/>
<text x="325.7" y="175.1" font-size="5.05">BD: <tspan font-style="italic">y</tspan>=1.13+0.008x</text>
<text x="325.7" y="182.6" font-size="5.05"><tspan font-style="italic">R</tspan><tspan dy="-1.8" font-size="3.28">2</tspan><tspan dy="1.8">=0.48, <tspan font-style="italic">P</tspan> &lt;0.001</tspan></text>
<text x="344.8" y="228.2" font-size="5.05">pH: <tspan font-style="italic">y</tspan>=7.44+0.035x</text>
<text x="344.0" y="235.6" font-size="5.05"><tspan font-style="italic">R</tspan><tspan dy="-1.8" font-size="3.28">2</tspan><tspan dy="1.8">=0.24, <tspan font-style="italic">P</tspan> &lt;0.05</tspan></text>
<rect x="427.5" y="167.5" width="105" height="74" fill="none" stroke="#ababab" stroke-width="1"/>
<line x1="436.25" y1="241.5" x2="436.25" y2="240.0" stroke="#ababab" stroke-width="0.8"/>
<line x1="453.75" y1="241.5" x2="453.75" y2="240.0" stroke="#ababab" stroke-width="0.8"/>
<line x1="471.25" y1="241.5" x2="471.25" y2="240.0" stroke="#ababab" stroke-width="0.8"/>
<line x1="488.75" y1="241.5" x2="488.75" y2="240.0" stroke="#ababab" stroke-width="0.8"/>
<line x1="506.25" y1="241.5" x2="506.25" y2="240.0" stroke="#ababab" stroke-width="0.8"/>
<line x1="523.75" y1="241.5" x2="523.75" y2="240.0" stroke="#ababab" stroke-width="0.8"/>
<line x1="427.5" y1="167.50" x2="426.0" y2="167.50" stroke="#ababab" stroke-width="0.8"/>
<text x="426.6" y="169.60" font-size="5.40" text-anchor="end">1.6</text>
<line x1="427.5" y1="179.83" x2="426.0" y2="179.83" stroke="#ababab" stroke-width="0.8"/>
<text x="426.6" y="181.93" font-size="5.40" text-anchor="end">1.4</text>
<line x1="427.5" y1="192.17" x2="426.0" y2="192.17" stroke="#ababab" stroke-width="0.8"/>
<text x="426.6" y="194.27" font-size="5.40" text-anchor="end">1.2</text>
<line x1="427.5" y1="204.50" x2="426.0" y2="204.50" stroke="#ababab" stroke-width="0.8"/>
<text x="426.6" y="206.60" font-size="5.40" text-anchor="end">1.0</text>
<line x1="427.5" y1="216.83" x2="426.0" y2="216.83" stroke="#ababab" stroke-width="0.8"/>
<text x="426.6" y="218.93" font-size="5.40" text-anchor="end">0.8</text>
<line x1="427.5" y1="229.17" x2="426.0" y2="229.17" stroke="#ababab" stroke-width="0.8"/>
<text x="426.6" y="231.27" font-size="5.40" text-anchor="end">0.6</text>
<line x1="427.5" y1="241.50" x2="426.0" y2="241.50" stroke="#ababab" stroke-width="0.8"/>
<text x="426.6" y="243.60" font-size="5.40" text-anchor="end">0.4</text>
<line x1="532.5" y1="167.50" x2="534.0" y2="167.50" stroke="#ababab" stroke-width="0.8"/>
<text x="534.7" y="169.60" font-size="5.40">11</text>
<line x1="532.5" y1="182.30" x2="534.0" y2="182.30" stroke="#ababab" stroke-width="0.8"/>
<text x="534.7" y="184.40" font-size="5.40">10</text>
<line x1="532.5" y1="197.10" x2="534.0" y2="197.10" stroke="#ababab" stroke-width="0.8"/>
<text x="534.7" y="199.20" font-size="5.40">9</text>
<line x1="532.5" y1="211.90" x2="534.0" y2="211.90" stroke="#ababab" stroke-width="0.8"/>
<text x="534.7" y="214.00" font-size="5.40">8</text>
<line x1="532.5" y1="226.70" x2="534.0" y2="226.70" stroke="#ababab" stroke-width="0.8"/>
<text x="534.7" y="228.80" font-size="5.40">7</text>
<line x1="532.5" y1="241.50" x2="534.0" y2="241.50" stroke="#ababab" stroke-width="0.8"/>
<text x="534.7" y="243.60" font-size="5.40">6</text>
<text transform="translate(417.4,204.5) rotate(-90)" font-size="5.20" text-anchor="middle">BD</text>
<text transform="translate(543.2,204.5) rotate(-90)" font-size="5.20" text-anchor="middle">pH</text>
<line x1="437.6" y1="193.9" x2="523.6" y2="189.4" stroke="#ff9a50" stroke-width="0.80"/>
<circle cx="437.70" cy="193.05" r="1.70" fill="url(#g5)" stroke="none"/>
<circle cx="441.00" cy="190.75" r="1.70" fill="url(#g5)" stroke="none"/>
<circle cx="445.50" cy="193.05" r="1.70" fill="url(#g5)" stroke="none"/>
<circle cx="448.60" cy="190.55" r="1.70" fill="url(#g5)" stroke="none"/>
<circle cx="450.40" cy="191.65" r="1.70" fill="url(#g5)" stroke="none"/>
<circle cx="452.60" cy="188.15" r="1.70" fill="url(#g5)" stroke="none"/>
<circle cx="454.80" cy="188.75" r="1.70" fill="url(#g5)" stroke="none"/>
<circle cx="455.90" cy="189.75" r="1.70" fill="url(#g5)" stroke="none"/>
<circle cx="452.30" cy="193.05" r="1.70" fill="url(#g5)" stroke="none"/>
<circle cx="451.00" cy="194.95" r="1.70" fill="url(#g5)" stroke="none"/>
<circle cx="449.30" cy="196.35" r="1.70" fill="url(#g5)" stroke="none"/>
<circle cx="443.40" cy="197.35" r="1.70" fill="url(#g5)" stroke="none"/>
<circle cx="441.50" cy="199.25" r="1.70" fill="url(#g5)" stroke="none"/>
<circle cx="445.50" cy="200.65" r="1.70" fill="url(#g5)" stroke="none"/>
<circle cx="462.40" cy="193.05" r="1.70" fill="url(#g5)" stroke="none"/>
<circle cx="464.10" cy="186.95" r="1.70" fill="url(#g5)" stroke="none"/>
<circle cx="460.60" cy="196.75" r="1.70" fill="url(#g5)" stroke="none"/>
<circle cx="467.50" cy="196.75" r="1.70" fill="url(#g5)" stroke="none"/>
<circle cx="471.50" cy="197.85" r="1.70" fill="url(#g5)" stroke="none"/>
<circle cx="473.10" cy="194.35" r="1.70" fill="url(#g5)" stroke="none"/>
<circle cx="487.60" cy="194.75" r="1.70" fill="url(#g5)" stroke="none"/>
<circle cx="497.60" cy="184.55" r="1.70" fill="url(#g5)" stroke="none"/>
<circle cx="505.60" cy="181.25" r="1.70" fill="url(#g5)" stroke="none"/>
<circle cx="505.60" cy="195.85" r="1.70" fill="url(#g5)" stroke="none"/>
<circle cx="512.80" cy="188.25" r="1.70" fill="url(#g5)" stroke="none"/>
<circle cx="523.70" cy="196.05" r="1.70" fill="url(#g5)" stroke="none"/>
<line x1="437.6" y1="220.0" x2="523.6" y2="208.3" stroke="#b868b0" stroke-width="0.80"/>
<circle cx="454.60" cy="204.95" r="1.70" fill="url(#g4)" stroke="none"/>
<circle cx="464.10" cy="204.95" r="1.70" fill="url(#g4)" stroke="none"/>
<circle cx="471.60" cy="207.95" r="1.70" fill="url(#g4)" stroke="none"/>
<circle cx="452.80" cy="210.75" r="1.70" fill="url(#g4)" stroke="none"/>
<circle cx="449.10" cy="212.25" r="1.70" fill="url(#g4)" stroke="none"/>
<circle cx="452.80" cy="215.05" r="1.70" fill="url(#g4)" stroke="none"/>
<circle cx="462.10" cy="215.35" r="1.70" fill="url(#g4)" stroke="none"/>
<circle cx="467.60" cy="215.05" r="1.70" fill="url(#g4)" stroke="none"/>
<circle cx="437.70" cy="219.65" r="1.70" fill="url(#g4)" stroke="none"/>
<circle cx="440.80" cy="219.65" r="1.70" fill="url(#g4)" stroke="none"/>
<circle cx="451.60" cy="218.35" r="1.70" fill="url(#g4)" stroke="none"/>
<circle cx="455.90" cy="218.15" r="1.70" fill="url(#g4)" stroke="none"/>
<circle cx="460.80" cy="219.65" r="1.70" fill="url(#g4)" stroke="none"/>
<circle cx="473.50" cy="219.65" r="1.70" fill="url(#g4)" stroke="none"/>
<circle cx="440.40" cy="222.75" r="1.70" fill="url(#g4)" stroke="none"/>
<circle cx="450.70" cy="220.95" r="1.70" fill="url(#g4)" stroke="none"/>
<circle cx="445.80" cy="223.05" r="1.70" fill="url(#g4)" stroke="none"/>
<circle cx="444.10" cy="225.55" r="1.70" fill="url(#g4)" stroke="none"/>
<circle cx="441.30" cy="226.75" r="1.70" fill="url(#g4)" stroke="none"/>
<circle cx="446.00" cy="226.75" r="1.70" fill="url(#g4)" stroke="none"/>
<circle cx="449.70" cy="226.75" r="1.70" fill="url(#g4)" stroke="none"/>
<circle cx="487.60" cy="213.45" r="1.70" fill="url(#g4)" stroke="none"/>
<circle cx="497.60" cy="215.65" r="1.70" fill="url(#g4)" stroke="none"/>
<circle cx="505.60" cy="212.15" r="1.70" fill="url(#g4)" stroke="none"/>
<circle cx="505.60" cy="213.45" r="1.70" fill="url(#g4)" stroke="none"/>
<circle cx="512.80" cy="213.45" r="1.70" fill="url(#g4)" stroke="none"/>
<circle cx="523.70" cy="207.35" r="1.70" fill="url(#g4)" stroke="none"/>
<text x="433.6" y="173.3" font-size="5.05">BD: <tspan font-style="italic">y</tspan>=1.17+0.003x</text>
<text x="433.6" y="181.2" font-size="5.05"><tspan font-style="italic">R</tspan><tspan dy="-1.8" font-size="3.28">2</tspan><tspan dy="1.8">=0.07, <tspan font-style="italic">P</tspan> &gt;0.05</tspan></text>
<text x="479.0" y="225.4" font-size="5.05">pH: <tspan font-style="italic">y</tspan>=7.44+0.032x</text>
<text x="479.0" y="232.6" font-size="5.05"><tspan font-style="italic">R</tspan><tspan dy="-1.8" font-size="3.28">2</tspan><tspan dy="1.8">=0.26, <tspan font-style="italic">P</tspan> &lt;0.05</tspan></text>
<rect x="26.8" y="247.5" width="105" height="74" fill="none" stroke="#ababab" stroke-width="1"/>
<line x1="37.30" y1="321.5" x2="37.30" y2="320.0" stroke="#ababab" stroke-width="0.8"/>
<line x1="47.80" y1="321.5" x2="47.80" y2="320.0" stroke="#ababab" stroke-width="0.8"/>
<line x1="58.30" y1="321.5" x2="58.30" y2="320.0" stroke="#ababab" stroke-width="0.8"/>
<line x1="68.80" y1="321.5" x2="68.80" y2="320.0" stroke="#ababab" stroke-width="0.8"/>
<line x1="79.30" y1="321.5" x2="79.30" y2="320.0" stroke="#ababab" stroke-width="0.8"/>
<line x1="89.80" y1="321.5" x2="89.80" y2="320.0" stroke="#ababab" stroke-width="0.8"/>
<line x1="100.30" y1="321.5" x2="100.30" y2="320.0" stroke="#ababab" stroke-width="0.8"/>
<line x1="110.80" y1="321.5" x2="110.80" y2="320.0" stroke="#ababab" stroke-width="0.8"/>
<line x1="121.30" y1="321.5" x2="121.30" y2="320.0" stroke="#ababab" stroke-width="0.8"/>
<line x1="26.8" y1="247.50" x2="25.3" y2="247.50" stroke="#ababab" stroke-width="0.8"/>
<text x="25.9" y="249.5" font-size="5.40" text-anchor="end">1.2×10<tspan dy="-1.8" font-size="3.24">6</tspan></text>
<line x1="26.8" y1="261.70" x2="25.3" y2="261.70" stroke="#ababab" stroke-width="0.8"/>
<text x="25.9" y="263.7" font-size="5.40" text-anchor="end">1.0×10<tspan dy="-1.8" font-size="3.24">6</tspan></text>
<line x1="26.8" y1="275.90" x2="25.3" y2="275.90" stroke="#ababab" stroke-width="0.8"/>
<text x="25.9" y="277.9" font-size="5.40" text-anchor="end">8.0×10<tspan dy="-1.8" font-size="3.24">5</tspan></text>
<line x1="26.8" y1="290.10" x2="25.3" y2="290.10" stroke="#ababab" stroke-width="0.8"/>
<text x="25.9" y="292.1" font-size="5.40" text-anchor="end">6.0×10<tspan dy="-1.8" font-size="3.24">5</tspan></text>
<line x1="26.8" y1="304.30" x2="25.3" y2="304.30" stroke="#ababab" stroke-width="0.8"/>
<text x="25.9" y="306.3" font-size="5.40" text-anchor="end">4.0×10<tspan dy="-1.8" font-size="3.24">5</tspan></text>
<line x1="26.8" y1="318.50" x2="25.3" y2="318.50" stroke="#ababab" stroke-width="0.8"/>
<text x="25.9" y="320.5" font-size="5.40" text-anchor="end">2.0×10<tspan dy="-1.8" font-size="3.24">5</tspan></text>
<text transform="translate(7.1,284.5) rotate(-90)" font-size="5.20" text-anchor="middle">Bacterial quantity(copies/g)</text>
<line x1="37.9" y1="301.4" x2="118.0" y2="279.1" stroke="#555" stroke-width="0.80"/>
<circle cx="38.00" cy="310.85" r="1.70" fill="url(#g6)" stroke="none"/>
<circle cx="39.50" cy="298.65" r="1.70" fill="url(#g6)" stroke="none"/>
<circle cx="41.50" cy="299.05" r="1.70" fill="url(#g6)" stroke="none"/>
<circle cx="43.50" cy="298.25" r="1.70" fill="url(#g6)" stroke="none"/>
<circle cx="50.40" cy="294.35" r="1.70" fill="url(#g6)" stroke="none"/>
<circle cx="52.40" cy="296.65" r="1.70" fill="url(#g6)" stroke="none"/>
<circle cx="53.90" cy="297.05" r="1.70" fill="url(#g6)" stroke="none"/>
<circle cx="57.10" cy="314.45" r="1.70" fill="url(#g6)" stroke="none"/>
<circle cx="60.10" cy="286.25" r="1.70" fill="url(#g6)" stroke="none"/>
<circle cx="60.20" cy="298.65" r="1.70" fill="url(#g6)" stroke="none"/>
<circle cx="61.20" cy="304.15" r="1.70" fill="url(#g6)" stroke="none"/>
<circle cx="64.00" cy="281.25" r="1.70" fill="url(#g6)" stroke="none"/>
<circle cx="64.20" cy="298.65" r="1.70" fill="url(#g6)" stroke="none"/>
<circle cx="67.50" cy="283.45" r="1.70" fill="url(#g6)" stroke="none"/>
<circle cx="68.50" cy="290.15" r="1.70" fill="url(#g6)" stroke="none"/>
<circle cx="72.50" cy="287.35" r="1.70" fill="url(#g6)" stroke="none"/>
<circle cx="88.90" cy="267.05" r="1.70" fill="url(#g6)" stroke="none"/>
<circle cx="95.80" cy="264.15" r="1.70" fill="url(#g6)" stroke="none"/>
<circle cx="84.40" cy="278.95" r="1.70" fill="url(#g6)" stroke="none"/>
<circle cx="89.50" cy="280.25" r="1.70" fill="url(#g6)" stroke="none"/>
<circle cx="95.20" cy="279.35" r="1.70" fill="url(#g6)" stroke="none"/>
<circle cx="99.80" cy="284.85" r="1.70" fill="url(#g6)" stroke="none"/>
<circle cx="118.10" cy="283.85" r="1.70" fill="url(#g6)" stroke="none"/>
<circle cx="92.90" cy="296.25" r="1.70" fill="url(#g6)" stroke="none"/>
<circle cx="100.30" cy="298.65" r="1.70" fill="url(#g6)" stroke="none"/>
<circle cx="84.60" cy="304.15" r="1.70" fill="url(#g6)" stroke="none"/>
<circle cx="95.20" cy="308.15" r="1.70" fill="url(#g6)" stroke="none"/>
<text x="34.0" y="258.0" font-size="5.28"><tspan font-style="italic">y</tspan>=440187,000+4089,164.057x</text>
<text x="34.0" y="265.5" font-size="5.28"><tspan font-style="italic">R</tspan><tspan dy="-1.8" font-size="3.43">2</tspan><tspan dy="1.8">=0.23, <tspan font-style="italic">P</tspan> &lt;0.05</tspan></text>
<text x="26.8" y="327.3" font-size="5.40" text-anchor="middle">-10</text>
<text x="37.3" y="327.3" font-size="5.40" text-anchor="middle">0</text>
<text x="47.8" y="327.3" font-size="5.40" text-anchor="middle">10</text>
<text x="58.3" y="327.3" font-size="5.40" text-anchor="middle">20</text>
<text x="68.8" y="327.3" font-size="5.40" text-anchor="middle">30</text>
<text x="79.3" y="327.3" font-size="5.40" text-anchor="middle">40</text>
<text x="89.8" y="327.3" font-size="5.40" text-anchor="middle">50</text>
<text x="100.3" y="327.3" font-size="5.40" text-anchor="middle">60</text>
<text x="110.8" y="327.3" font-size="5.40" text-anchor="middle">70</text>
<text x="121.3" y="327.3" font-size="5.40" text-anchor="middle">80</text>
<text x="131.8" y="327.3" font-size="5.40" text-anchor="middle">90</text>
<rect x="160.3" y="247.5" width="105" height="74" fill="none" stroke="#ababab" stroke-width="1"/>
<line x1="169.05" y1="321.5" x2="169.05" y2="320.0" stroke="#ababab" stroke-width="0.8"/>
<line x1="186.55" y1="321.5" x2="186.55" y2="320.0" stroke="#ababab" stroke-width="0.8"/>
<line x1="204.05" y1="321.5" x2="204.05" y2="320.0" stroke="#ababab" stroke-width="0.8"/>
<line x1="221.55" y1="321.5" x2="221.55" y2="320.0" stroke="#ababab" stroke-width="0.8"/>
<line x1="239.05" y1="321.5" x2="239.05" y2="320.0" stroke="#ababab" stroke-width="0.8"/>
<line x1="256.55" y1="321.5" x2="256.55" y2="320.0" stroke="#ababab" stroke-width="0.8"/>
<line x1="160.3" y1="247.50" x2="158.8" y2="247.50" stroke="#ababab" stroke-width="0.8"/>
<text x="159.4" y="249.5" font-size="5.40" text-anchor="end">1.05×10<tspan dy="-1.8" font-size="3.24">6</tspan></text>
<line x1="160.3" y1="259.83" x2="158.8" y2="259.83" stroke="#ababab" stroke-width="0.8"/>
<text x="159.4" y="261.8" font-size="5.40" text-anchor="end">9.00×10<tspan dy="-1.8" font-size="3.24">5</tspan></text>
<line x1="160.3" y1="272.17" x2="158.8" y2="272.17" stroke="#ababab" stroke-width="0.8"/>
<text x="159.4" y="274.2" font-size="5.40" text-anchor="end">7.50×10<tspan dy="-1.8" font-size="3.24">5</tspan></text>
<line x1="160.3" y1="284.50" x2="158.8" y2="284.50" stroke="#ababab" stroke-width="0.8"/>
<text x="159.4" y="286.5" font-size="5.40" text-anchor="end">6.00×10<tspan dy="-1.8" font-size="3.24">5</tspan></text>
<line x1="160.3" y1="296.83" x2="158.8" y2="296.83" stroke="#ababab" stroke-width="0.8"/>
<text x="159.4" y="298.8" font-size="5.40" text-anchor="end">4.50×10<tspan dy="-1.8" font-size="3.24">5</tspan></text>
<line x1="160.3" y1="309.17" x2="158.8" y2="309.17" stroke="#ababab" stroke-width="0.8"/>
<text x="159.4" y="311.2" font-size="5.40" text-anchor="end">3.00×10<tspan dy="-1.8" font-size="3.24">5</tspan></text>
<line x1="160.3" y1="321.50" x2="158.8" y2="321.50" stroke="#ababab" stroke-width="0.8"/>
<text x="159.4" y="323.5" font-size="5.40" text-anchor="end">1.50×10<tspan dy="-1.8" font-size="3.24">5</tspan></text>
<text transform="translate(138.6,284.5) rotate(-90)" font-size="5.20" text-anchor="middle">Bacterial quantity(copies/g)</text>
<line x1="170.6" y1="275.2" x2="254.5" y2="291.3" stroke="#555" stroke-width="0.80"/>
<circle cx="170.70" cy="276.35" r="1.70" fill="url(#g6)" stroke="none"/>
<circle cx="205.20" cy="254.05" r="1.70" fill="url(#g6)" stroke="none"/>
<circle cx="210.80" cy="257.65" r="1.70" fill="url(#g6)" stroke="none"/>
<circle cx="203.50" cy="271.05" r="1.70" fill="url(#g6)" stroke="none"/>
<circle cx="213.60" cy="272.05" r="1.70" fill="url(#g6)" stroke="none"/>
<circle cx="197.80" cy="277.35" r="1.70" fill="url(#g6)" stroke="none"/>
<circle cx="193.40" cy="293.25" r="1.70" fill="url(#g6)" stroke="none"/>
<circle cx="203.50" cy="290.55" r="1.70" fill="url(#g6)" stroke="none"/>
<circle cx="205.00" cy="303.85" r="1.70" fill="url(#g6)" stroke="none"/>
<circle cx="213.70" cy="299.65" r="1.70" fill="url(#g6)" stroke="none"/>
<circle cx="221.80" cy="270.85" r="1.70" fill="url(#g6)" stroke="none"/>
<circle cx="230.20" cy="276.05" r="1.70" fill="url(#g6)" stroke="none"/>
<circle cx="233.00" cy="281.35" r="1.70" fill="url(#g6)" stroke="none"/>
<circle cx="238.70" cy="283.55" r="1.70" fill="url(#g6)" stroke="none"/>
<circle cx="238.70" cy="287.95" r="1.70" fill="url(#g6)" stroke="none"/>
<circle cx="245.10" cy="273.95" r="1.70" fill="url(#g6)" stroke="none"/>
<circle cx="250.40" cy="278.85" r="1.70" fill="url(#g6)" stroke="none"/>
<circle cx="228.70" cy="294.35" r="1.70" fill="url(#g6)" stroke="none"/>
<circle cx="233.40" cy="293.25" r="1.70" fill="url(#g6)" stroke="none"/>
<circle cx="238.30" cy="293.25" r="1.70" fill="url(#g6)" stroke="none"/>
<circle cx="240.80" cy="292.65" r="1.70" fill="url(#g6)" stroke="none"/>
<circle cx="248.70" cy="291.55" r="1.70" fill="url(#g6)" stroke="none"/>
<circle cx="254.60" cy="291.55" r="1.70" fill="url(#g6)" stroke="none"/>
<circle cx="243.60" cy="299.65" r="1.70" fill="url(#g6)" stroke="none"/>
<circle cx="230.70" cy="306.85" r="1.70" fill="url(#g6)" stroke="none"/>
<circle cx="236.60" cy="311.65" r="1.70" fill="url(#g6)" stroke="none"/>
<text x="165.3" y="310.0" font-size="5.28"><tspan font-style="italic">y</tspan>=615714,000−4651,016.483x</text>
<text x="165.2" y="317.3" font-size="5.28"><tspan font-style="italic">R</tspan><tspan dy="-1.8" font-size="3.43">2</tspan><tspan dy="1.8">=0.10, <tspan font-style="italic">P</tspan> &gt;0.05</tspan></text>
<text x="169.1" y="327.3" font-size="5.40" text-anchor="middle">20</text>
<text x="186.6" y="327.3" font-size="5.40" text-anchor="middle">30</text>
<text x="204.1" y="327.3" font-size="5.40" text-anchor="middle">40</text>
<text x="221.6" y="327.3" font-size="5.40" text-anchor="middle">50</text>
<text x="239.1" y="327.3" font-size="5.40" text-anchor="middle">60</text>
<text x="256.6" y="327.3" font-size="5.40" text-anchor="middle">70</text>
<rect x="293.4" y="247.5" width="105" height="74" fill="none" stroke="#ababab" stroke-width="1"/>
<line x1="302.15" y1="321.5" x2="302.15" y2="320.0" stroke="#ababab" stroke-width="0.8"/>
<line x1="319.65" y1="321.5" x2="319.65" y2="320.0" stroke="#ababab" stroke-width="0.8"/>
<line x1="337.15" y1="321.5" x2="337.15" y2="320.0" stroke="#ababab" stroke-width="0.8"/>
<line x1="354.65" y1="321.5" x2="354.65" y2="320.0" stroke="#ababab" stroke-width="0.8"/>
<line x1="372.15" y1="321.5" x2="372.15" y2="320.0" stroke="#ababab" stroke-width="0.8"/>
<line x1="389.65" y1="321.5" x2="389.65" y2="320.0" stroke="#ababab" stroke-width="0.8"/>
<line x1="293.4" y1="247.50" x2="291.9" y2="247.50" stroke="#ababab" stroke-width="0.8"/>
<text x="292.5" y="249.5" font-size="5.40" text-anchor="end">1.05×10<tspan dy="-1.8" font-size="3.24">6</tspan></text>
<line x1="293.4" y1="259.83" x2="291.9" y2="259.83" stroke="#ababab" stroke-width="0.8"/>
<text x="292.5" y="261.8" font-size="5.40" text-anchor="end">9.00×10<tspan dy="-1.8" font-size="3.24">5</tspan></text>
<line x1="293.4" y1="272.17" x2="291.9" y2="272.17" stroke="#ababab" stroke-width="0.8"/>
<text x="292.5" y="274.2" font-size="5.40" text-anchor="end">7.50×10<tspan dy="-1.8" font-size="3.24">5</tspan></text>
<line x1="293.4" y1="284.50" x2="291.9" y2="284.50" stroke="#ababab" stroke-width="0.8"/>
<text x="292.5" y="286.5" font-size="5.40" text-anchor="end">6.00×10<tspan dy="-1.8" font-size="3.24">5</tspan></text>
<line x1="293.4" y1="296.83" x2="291.9" y2="296.83" stroke="#ababab" stroke-width="0.8"/>
<text x="292.5" y="298.8" font-size="5.40" text-anchor="end">4.50×10<tspan dy="-1.8" font-size="3.24">5</tspan></text>
<line x1="293.4" y1="309.17" x2="291.9" y2="309.17" stroke="#ababab" stroke-width="0.8"/>
<text x="292.5" y="311.2" font-size="5.40" text-anchor="end">3.00×10<tspan dy="-1.8" font-size="3.24">5</tspan></text>
<line x1="293.4" y1="321.50" x2="291.9" y2="321.50" stroke="#ababab" stroke-width="0.8"/>
<text x="292.5" y="323.5" font-size="5.40" text-anchor="end">1.50×10<tspan dy="-1.8" font-size="3.24">5</tspan></text>
<text transform="translate(271.9,284.5) rotate(-90)" font-size="5.20" text-anchor="middle">Bacterial quantity(copies/g)</text>
<line x1="304.5" y1="279.6" x2="388.6" y2="306.2" stroke="#555" stroke-width="0.80"/>
<circle cx="309.50" cy="254.05" r="1.70" fill="url(#g6)" stroke="none"/>
<circle cx="309.90" cy="257.65" r="1.70" fill="url(#g6)" stroke="none"/>
<circle cx="311.50" cy="271.65" r="1.70" fill="url(#g6)" stroke="none"/>
<circle cx="314.60" cy="273.65" r="1.70" fill="url(#g6)" stroke="none"/>
<circle cx="318.30" cy="271.45" r="1.70" fill="url(#g6)" stroke="none"/>
<circle cx="324.80" cy="274.85" r="1.70" fill="url(#g6)" stroke="none"/>
<circle cx="304.60" cy="277.35" r="1.70" fill="url(#g6)" stroke="none"/>
<circle cx="306.60" cy="278.15" r="1.70" fill="url(#g6)" stroke="none"/>
<circle cx="319.90" cy="279.85" r="1.70" fill="url(#g6)" stroke="none"/>
<circle cx="317.50" cy="282.25" r="1.70" fill="url(#g6)" stroke="none"/>
<circle cx="324.50" cy="284.65" r="1.70" fill="url(#g6)" stroke="none"/>
<circle cx="330.70" cy="289.65" r="1.70" fill="url(#g6)" stroke="none"/>
<circle cx="330.50" cy="293.45" r="1.70" fill="url(#g6)" stroke="none"/>
<circle cx="330.90" cy="294.65" r="1.70" fill="url(#g6)" stroke="none"/>
<circle cx="315.60" cy="291.85" r="1.70" fill="url(#g6)" stroke="none"/>
<circle cx="318.90" cy="294.85" r="1.70" fill="url(#g6)" stroke="none"/>
<circle cx="308.60" cy="294.85" r="1.70" fill="url(#g6)" stroke="none"/>
<circle cx="321.00" cy="301.05" r="1.70" fill="url(#g6)" stroke="none"/>
<circle cx="327.70" cy="300.85" r="1.70" fill="url(#g6)" stroke="none"/>
<circle cx="310.60" cy="305.75" r="1.70" fill="url(#g6)" stroke="none"/>
<circle cx="331.10" cy="313.35" r="1.70" fill="url(#g6)" stroke="none"/>
<circle cx="340.50" cy="277.25" r="1.70" fill="url(#g6)" stroke="none"/>
<circle cx="348.60" cy="294.35" r="1.70" fill="url(#g6)" stroke="none"/>
<circle cx="373.40" cy="295.85" r="1.70" fill="url(#g6)" stroke="none"/>
<circle cx="375.50" cy="294.35" r="1.70" fill="url(#g6)" stroke="none"/>
<circle cx="388.80" cy="308.05" r="1.70" fill="url(#g6)" stroke="none"/>
<text x="338.2" y="264.0" font-size="5.28"><tspan font-style="italic">y</tspan>=671937,000−13627,600x</text>
<text x="337.0" y="271.2" font-size="5.28"><tspan font-style="italic">R</tspan><tspan dy="-1.8" font-size="3.43">2</tspan><tspan dy="1.8">=0.22, <tspan font-style="italic">P</tspan> &lt;0.05</tspan></text>
<text x="302.1" y="327.3" font-size="5.40" text-anchor="middle">0</text>
<text x="319.6" y="327.3" font-size="5.40" text-anchor="middle">5</text>
<text x="337.1" y="327.3" font-size="5.40" text-anchor="middle">10</text>
<text x="354.6" y="327.3" font-size="5.40" text-anchor="middle">15</text>
<text x="372.1" y="327.3" font-size="5.40" text-anchor="middle">20</text>
<text x="389.6" y="327.3" font-size="5.40" text-anchor="middle">25</text>
<rect x="427.5" y="247.5" width="105" height="74" fill="none" stroke="#ababab" stroke-width="1"/>
<line x1="436.25" y1="321.5" x2="436.25" y2="320.0" stroke="#ababab" stroke-width="0.8"/>
<line x1="453.75" y1="321.5" x2="453.75" y2="320.0" stroke="#ababab" stroke-width="0.8"/>
<line x1="471.25" y1="321.5" x2="471.25" y2="320.0" stroke="#ababab" stroke-width="0.8"/>
<line x1="488.75" y1="321.5" x2="488.75" y2="320.0" stroke="#ababab" stroke-width="0.8"/>
<line x1="506.25" y1="321.5" x2="506.25" y2="320.0" stroke="#ababab" stroke-width="0.8"/>
<line x1="523.75" y1="321.5" x2="523.75" y2="320.0" stroke="#ababab" stroke-width="0.8"/>
<line x1="427.5" y1="247.50" x2="426.0" y2="247.50" stroke="#ababab" stroke-width="0.8"/>
<text x="426.6" y="249.5" font-size="5.40" text-anchor="end">1.05×10<tspan dy="-1.8" font-size="3.24">6</tspan></text>
<line x1="427.5" y1="259.83" x2="426.0" y2="259.83" stroke="#ababab" stroke-width="0.8"/>
<text x="426.6" y="261.8" font-size="5.40" text-anchor="end">9.00×10<tspan dy="-1.8" font-size="3.24">5</tspan></text>
<line x1="427.5" y1="272.17" x2="426.0" y2="272.17" stroke="#ababab" stroke-width="0.8"/>
<text x="426.6" y="274.2" font-size="5.40" text-anchor="end">7.50×10<tspan dy="-1.8" font-size="3.24">5</tspan></text>
<line x1="427.5" y1="284.50" x2="426.0" y2="284.50" stroke="#ababab" stroke-width="0.8"/>
<text x="426.6" y="286.5" font-size="5.40" text-anchor="end">6.00×10<tspan dy="-1.8" font-size="3.24">5</tspan></text>
<line x1="427.5" y1="296.83" x2="426.0" y2="296.83" stroke="#ababab" stroke-width="0.8"/>
<text x="426.6" y="298.8" font-size="5.40" text-anchor="end">4.50×10<tspan dy="-1.8" font-size="3.24">5</tspan></text>
<line x1="427.5" y1="309.17" x2="426.0" y2="309.17" stroke="#ababab" stroke-width="0.8"/>
<text x="426.6" y="311.2" font-size="5.40" text-anchor="end">3.00×10<tspan dy="-1.8" font-size="3.24">5</tspan></text>
<line x1="427.5" y1="321.50" x2="426.0" y2="321.50" stroke="#ababab" stroke-width="0.8"/>
<text x="426.6" y="323.5" font-size="5.40" text-anchor="end">1.50×10<tspan dy="-1.8" font-size="3.24">5</tspan></text>
<text transform="translate(405.2,284.5) rotate(-90)" font-size="5.20" text-anchor="middle">Bacterial quantity(copies/g)</text>
<line x1="437.3" y1="278.2" x2="523.5" y2="305.5" stroke="#555" stroke-width="0.80"/>
<circle cx="440.70" cy="254.65" r="1.70" fill="url(#g6)" stroke="none"/>
<circle cx="452.70" cy="257.85" r="1.70" fill="url(#g6)" stroke="none"/>
<circle cx="437.60" cy="271.45" r="1.70" fill="url(#g6)" stroke="none"/>
<circle cx="440.60" cy="273.15" r="1.70" fill="url(#g6)" stroke="none"/>
<circle cx="445.60" cy="271.75" r="1.70" fill="url(#g6)" stroke="none"/>
<circle cx="452.70" cy="274.65" r="1.70" fill="url(#g6)" stroke="none"/>
<circle cx="454.80" cy="277.05" r="1.70" fill="url(#g6)" stroke="none"/>
<circle cx="441.20" cy="277.55" r="1.70" fill="url(#g6)" stroke="none"/>
<circle cx="446.00" cy="278.15" r="1.70" fill="url(#g6)" stroke="none"/>
<circle cx="460.70" cy="280.05" r="1.70" fill="url(#g6)" stroke="none"/>
<circle cx="455.90" cy="282.05" r="1.70" fill="url(#g6)" stroke="none"/>
<circle cx="451.20" cy="284.75" r="1.70" fill="url(#g6)" stroke="none"/>
<circle cx="448.90" cy="292.25" r="1.70" fill="url(#g6)" stroke="none"/>
<circle cx="450.70" cy="294.95" r="1.70" fill="url(#g6)" stroke="none"/>
<circle cx="463.90" cy="294.65" r="1.70" fill="url(#g6)" stroke="none"/>
<circle cx="467.70" cy="294.95" r="1.70" fill="url(#g6)" stroke="none"/>
<circle cx="471.50" cy="293.25" r="1.70" fill="url(#g6)" stroke="none"/>
<circle cx="474.00" cy="293.65" r="1.70" fill="url(#g6)" stroke="none"/>
<circle cx="449.70" cy="301.45" r="1.70" fill="url(#g6)" stroke="none"/>
<circle cx="462.30" cy="301.45" r="1.70" fill="url(#g6)" stroke="none"/>
<circle cx="443.30" cy="305.75" r="1.70" fill="url(#g6)" stroke="none"/>
<circle cx="497.80" cy="294.75" r="1.70" fill="url(#g6)" stroke="none"/>
<circle cx="505.60" cy="289.85" r="1.70" fill="url(#g6)" stroke="none"/>
<circle cx="505.80" cy="308.55" r="1.70" fill="url(#g6)" stroke="none"/>
<circle cx="512.60" cy="295.85" r="1.70" fill="url(#g6)" stroke="none"/>
<circle cx="523.60" cy="294.75" r="1.70" fill="url(#g6)" stroke="none"/>
<circle cx="487.60" cy="313.35" r="1.70" fill="url(#g6)" stroke="none"/>
<text x="473.6" y="264.0" font-size="5.28"><tspan font-style="italic">y</tspan>=681720,000−13247,000x</text>
<text x="472.4" y="271.2" font-size="5.28"><tspan font-style="italic">R</tspan><tspan dy="-1.8" font-size="3.43">2</tspan><tspan dy="1.8">=0.27, <tspan font-style="italic">P</tspan> &lt;0.05</tspan></text>
<text x="436.2" y="327.3" font-size="5.40" text-anchor="middle">0</text>
<text x="453.8" y="327.3" font-size="5.40" text-anchor="middle">5</text>
<text x="471.2" y="327.3" font-size="5.40" text-anchor="middle">10</text>
<text x="488.8" y="327.3" font-size="5.40" text-anchor="middle">15</text>
<text x="506.2" y="327.3" font-size="5.40" text-anchor="middle">20</text>
<text x="523.8" y="327.3" font-size="5.40" text-anchor="middle">25</text>
<text x="77.6" y="334.0" font-size="5.00" text-anchor="middle">LMA(%)</text>
<text x="212.5" y="334.0" font-size="5.00" text-anchor="middle">SMA(%)</text>
<text x="344.0" y="334.0" font-size="5.00" text-anchor="middle">MI (%)</text>
<text x="481.0" y="334.0" font-size="5.00" text-anchor="middle">SC(%)</text>
</g></svg>
</body></html>
